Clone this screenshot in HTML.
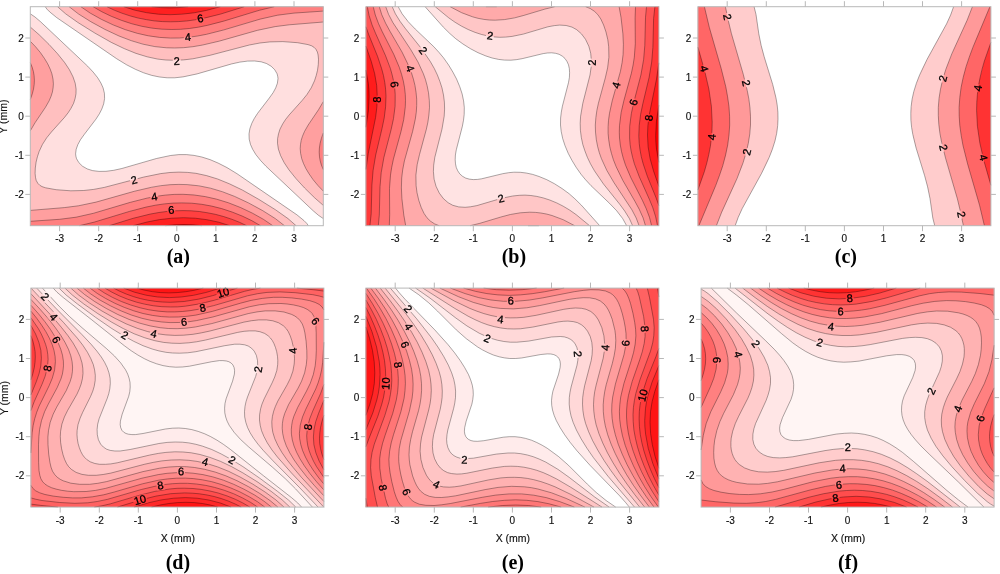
<!DOCTYPE html>
<html><head><meta charset="utf-8"><style>
html,body{margin:0;padding:0;background:#fff;}
svg{display:block;}
text{font-family:"Liberation Sans",Arial,sans-serif;fill:#111;}
.tk text{font-size:10px;stroke:#111;stroke-width:0.15px;}
.ax{font-size:10.5px;stroke:#111;stroke-width:0.15px;}
.pl{font-family:"Liberation Serif","Times New Roman",serif;font-weight:bold;font-size:20px;fill:#000;}
.cl{font-size:11px;fill:#000;stroke:#000;stroke-width:0.3px;}
</style></head><body>
<svg width="1000" height="574" viewBox="0 0 1000 574">
<mask id="ma" maskUnits="userSpaceOnUse" x="0" y="0" width="1000" height="574"><rect x="0" y="0" width="1000" height="574" fill="#fff"/><rect x="-4.0" y="-4.5" width="8.0" height="9" transform="translate(200.3,18.7) rotate(-10.7)" fill="#000"/><rect x="-4.0" y="-4.5" width="8.0" height="9" transform="translate(187.8,37.3) rotate(-6.0)" fill="#000"/><rect x="-4.0" y="-4.5" width="8.0" height="9" transform="translate(176.8,61.3) rotate(-1.5)" fill="#000"/><rect x="-4.0" y="-4.5" width="8.0" height="9" transform="translate(134.0,180.1) rotate(-15.1)" fill="#000"/><rect x="-4.0" y="-4.5" width="8.0" height="9" transform="translate(154.3,196.9) rotate(-10.0)" fill="#000"/><rect x="-4.0" y="-4.5" width="8.0" height="9" transform="translate(171.2,210.1) rotate(-4.5)" fill="#000"/></mask>
<rect x="30.3" y="6.7" width="293.0" height="219.0" fill="#ffffff"/>
<path d="M30.9 225.7l277.5 0-1.7-2.4-2.8-2.8-7-5.7-59.9-41.1-10-6.1-8.8-4.5-8.2-3.5-8.2-2.6-7.7-1.6-7.6-.8-7.6 0-8.3 .9-14.1 3-34.6 10-8.2 1.8-7.7 1-7 .1-6.5-.8-5.3-1.7-4.7-2.7-3.6-3.5-2.4-4.1-.6-2.4-.3-2.3 .6-4.7 1.7-4.7 2.6-4.8 3.8-5.3 11.7-15.3 3.4-5.3 2.4-4.7 1.9-5.3 .9-5.3-.2-5.3-1.3-5.3-2.1-4.7-3.2-5.3-4.6-5.8-5.5-5.9-47.4-44.7-5.3-4.5-4.7-3.2 0 211.9zM323.3 218.6l0-211.9-278.1 0 1.7 2.4 2.8 2.8 7 5.7 59.9 41.1 10 6.1 8.8 4.5 8.2 3.5 8.2 2.6 7.7 1.6 7.6 .8 7.6 0 8.3-.9 14.1-3 34.6-10 8.2-1.8 7.7-1 7-.1 6.5 .8 5.3 1.7 4.7 2.7 3.6 3.5 2.4 4.1 .6 2.4 .3 2.3-.6 4.7-1.7 4.7-2.6 4.8-3.8 5.3-11.7 15.3-3.4 5.3-2.4 4.7-1.9 5.3-.9 5.3 .2 5.3 1.3 5.3 2.1 4.7 3.2 5.3 4.6 5.8 5.5 5.9 47.4 44.7 5.3 4.5 4.7 3.2z" fill="#ffdfdf" fill-rule="evenodd"/>
<path d="M30.9 225.7l265.2 0-8.1-7.1-12.3-8.7-17-10.6-16.4-9.3-12.9-6.2-11.8-4.8-11.1-3.4-10.6-2.3-8.2-.9-8.8-.3-8.9 .4-9.3 1.1-17.1 3.5-39.3 10.3-10.6 2-10 1.1-12.9 .3-14.7-1.1-10.5-1.9-3.6-1.2-2.3-1.4-1.9-1.9-1.6-2.9-.7-3-.4-4.1 .2-5.3 .8-5.9 1.3-5.3 1.7-5.2 3.3-7.1 4.3-6.7 4.7-5.8 13.1-14.6 3.7-4.7 2.7-4.2 2.7-5.2 1.5-4.8 .9-4.7 .1-4.7-.9-5.9-2.2-6.4-3.6-7.1-4.7-7.1-7.1-8.8-8.6-9.4-9.9-9.7-8.8-7.7 0 198.7zM323.3 205.4l0-198.7-265.8 0 8.1 7.1 12.3 8.7 17 10.6 16.4 9.3 12.9 6.2 11.8 4.8 11.1 3.4 10.6 2.3 8.2 .9 8.8 .3 8.9-.4 9.3-1.1 17.1-3.5 39.3-10.3 10.6-2 10-1.1 12.9-.3 14.7 1.1 10.5 1.9 3.6 1.2 2.3 1.4 1.9 1.9 1.6 2.9 .7 3 .4 4.1-.2 5.3-.8 5.9-1.3 5.3-1.7 5.2-3.3 7.1-4.3 6.7-4.7 5.8-13.1 14.6-3.7 4.7-2.7 4.2-2.7 5.2-1.5 4.8-.9 4.7-.1 4.7 .9 5.9 2.2 6.4 3.6 7.1 4.7 7.1 7.1 8.8 8.6 9.4 9.6 9.4 8.7 7.7z" fill="#ffbfbf" fill-rule="evenodd"/>
<path d="M30.9 225.7l253.6 0-10.5-8-13.5-8.4-15.3-8.1-14.7-6.5-12.9-4.5-12.9-3.3-12.3-1.9-12.4-.6-7.6 .2-7.6 .6-16.5 2.7-15.8 3.9-34.7 9.8-17.6 3.9-15.3 2-34.6 2.9 0 15.3zM323.3 191.1l0-89.5-4.7 8-10.4 15.4-3.7 6.5-2 4.7-1.3 4.1-.7 4.2-.3 4.1 .4 4.7 1.1 5.3 1.7 4.7 2.5 5.3 3.2 5.3 4.1 5.9 4.9 5.9 5 5.3zM30.6 130.3l4.4-7.5 10.7-16 3.7-6.5 1.7-4.1 1.3-4.1 .7-4.2 .3-4.1-.4-4.7-1.1-5.3-1.7-4.7-2.5-5.3-3.2-5.3-4.1-5.9-4.9-5.9-5.2-5.4 0 89.5zM168.9 47.9l8.2 .1 8.2-.5 8.8-1 9.4-1.7 16.5-3.9 37-10.4 17.6-3.8 14.7-1.9 34-2.8 0-15.3-254.2 0 9.9 7.6 12.9 8.1 14.1 7.6 14.1 6.5 12.4 4.6 12.3 3.5 11.7 2.2 11.8 1.1z" fill="#ff9f9f" fill-rule="evenodd"/>
<path d="M30.9 225.7l241.9 0-9.6-6.5-11.5-6.4-12.4-5.8-12.3-4.7-11.7-3.5-11.8-2.6-11.1-1.4-11.8-.5-8.2 .2-8.8 .8-8.8 1.3-8.8 1.8-16.5 4.2-35.8 10.6-17 3.9-16.5 2.2-29.9 2 0 4.4zM323.3 169.7l0-36.8-3.1 9.8-.8 4.7-.2 4.1 .2 4.7 .7 4.1 1.1 4.2 1.9 4.7zM30.4 99.1l1.9-5.3 1.2-4.7 .7-4.7 .2-4.1-.3-4.7-.7-4.1-1.2-4.2-1.9-4.6 0 36.8zM165.9 37.9l8.8 .2 9.4-.4 9.4-1.1 10-1.7 15.9-3.8 37.6-11.1 16.4-4 9.2-1.6 9.6-1.2 31.1-2.1 0-4.4-242.5 0 8.8 6 10.6 6 11.1 5.4 11.8 4.8 11.1 3.6 10.6 2.7 10.6 1.8 10.2 .9z" fill="#ff8080" fill-rule="evenodd"/>
<path d="M79.6 225.7l180.9 0-8.8-5.1-9.4-4.5-10-4-10.6-3.5-10-2.5-9.9-1.8-10-1.1-10-.3-8.8 .2-8.8 .8-8.8 1.3-9.4 1.9-16.5 4.3-35.2 10.7-15 3.6zM160.7 29.1l9.9 .4 10.6-.3 10.6-1 10.5-1.8 17.1-4 38.1-11.6 16.8-4.1-181.2 0 7.7 4.5 8.2 4 8.2 3.6 8.8 3.2 8.8 2.6 8.2 2 8.8 1.5 8.7 1z" fill="#ff6060" fill-rule="evenodd"/>
<path d="M109.6 225.7l137.1 0-7.4-3.5-7.6-3-8.2-2.7-8.2-2.2-8.3-1.6-7.6-1.2-8.2-.7-8.2-.2-7.7 .2-8.2 .6-8.2 1.1-8.8 1.6-17 4.2-23.8 7.4zM160.7 21.5l8.8 .3 9.4-.2 9.4-.8 9.9-1.5 9.4-1.9 10.6-2.6 26.1-8.1-137.4 0 12.6 5.6 13.6 4.4 13.5 3 13.5 1.7z" fill="#ff4040" fill-rule="evenodd"/>
<path d="M133.6 225.7l96.3 0-11.1-3.5-11.8-2.5-11.7-1.5-11.7-.5-11.8 .5-12.3 1.4-12.4 2.4-13.9 3.7zM160.7 14.4l14 .2 14.7-1.2 14.7-2.5 16.3-4.2-96.7 0 8.8 2.8 9.4 2.3 9.4 1.6 9.2 1z" fill="#ff2020" fill-rule="evenodd"/>
<path d="M165.9 225.7l36.1 0-9.1-.9-8.8-.3-9.4 .3-9.3 .9zM167.7 7.9l10-.2 10.5-1-36.6 0 7.9 .8 8 .4z" fill="#ff0000" fill-rule="evenodd"/>
<path d="M308.4 225.7l-1.7-2.4-2.8-2.8-7-5.7-59.9-41.1-10-6.1-8.8-4.5-8.2-3.5-8.2-2.6-7.7-1.6-7.6-.8-7.6 0-8.3 .9-14.1 3-34.6 10-8.2 1.8-7.7 1-7 .1-6.5-.8-5.3-1.7-4.7-2.7-3.6-3.5-2.4-4.1-.6-2.4-.3-2.3 .6-4.7 1.7-4.7 2.6-4.8 3.8-5.3 11.7-15.3 3.4-5.3 2.4-4.7 1.9-5.3 .9-5.3-.2-5.3-1.3-5.3-2.1-4.7-3.2-5.3-4.6-5.8-5.5-5.9-47.4-44.7-5.3-4.5-4.7-3.2M45.2 6.7l1.7 2.4 2.8 2.8 7 5.7 59.9 41.1 10 6.1 8.8 4.5 8.2 3.5 8.2 2.6 7.7 1.6 7.6 .8 7.6 0 8.3-.9 14.1-3 34.6-10 8.2-1.8 7.7-1 7-.1 6.5 .8 5.3 1.7 4.7 2.7 3.6 3.5 2.4 4.1 .6 2.4 .3 2.3-.6 4.7-1.7 4.7-2.6 4.8-3.8 5.3-11.7 15.3-3.4 5.3-2.4 4.7-1.9 5.3-.9 5.3 .2 5.3 1.3 5.3 2.1 4.7 3.2 5.3 4.6 5.8 5.5 5.9 47.4 44.7 5.3 4.5 4.7 3.2M296.1 225.7l-8.1-7.1-12.3-8.7-17-10.6-16.4-9.3-12.9-6.2-11.8-4.8-11.1-3.4-10.6-2.3-8.2-.9-8.8-.3-8.9 .4-9.3 1.1-17.1 3.5-39.3 10.3-10.6 2-10 1.1-12.9 .3-14.7-1.1-10.5-1.9-3.6-1.2-2.3-1.4-1.9-1.9-1.6-2.9-.7-3-.4-4.1 .2-5.3 .8-5.9 1.3-5.3 1.7-5.2 3.3-7.1 4.3-6.7 4.7-5.8 13.1-14.6 3.7-4.7 2.7-4.2 2.7-5.2 1.5-4.8 .9-4.7 .1-4.7-.9-5.9-2.2-6.4-3.6-7.1-4.7-7.1-7.1-8.8-8.6-9.4-9.9-9.7-8.8-7.7M57.5 6.7l8.1 7.1 12.3 8.7 17 10.6 16.4 9.3 12.9 6.2 11.8 4.8 11.1 3.4 10.6 2.3 8.2 .9 8.8 .3 8.9-.4 9.3-1.1 17.1-3.5 39.3-10.3 10.6-2 10-1.1 12.9-.3 14.7 1.1 10.5 1.9 3.6 1.2 2.3 1.4 1.9 1.9 1.6 2.9 .7 3 .4 4.1-.2 5.3-.8 5.9-1.3 5.3-1.7 5.2-3.3 7.1-4.3 6.7-4.7 5.8-13.1 14.6-3.7 4.7-2.7 4.2-2.7 5.2-1.5 4.8-.9 4.7-.1 4.7 .9 5.9 2.2 6.4 3.6 7.1 4.7 7.1 7.1 8.8 8.6 9.4 9.9 9.7 8.8 7.7M284.5 225.7l-9.3-7.2-12.4-7.8-14.1-7.7-14.1-6.6-12.3-4.7-11.7-3.5-11.8-2.4-11.7-1.2-8.2-.2-8.9 .3-9.3 1-9.4 1.6-17.1 4-38.1 10.8-17.7 3.7-14.1 1.8-34 2.8M30.3 130.8l4.7-8 10.4-15.4 3.7-6.5 2-4.7 1.3-4.1 .7-4.2 .3-4.1-.4-4.7-1.1-5.3-1.7-4.7-2.5-5.3-3.2-5.3-4.1-5.9-4.9-5.9-5.2-5.4M323.3 101.6l-4.7 8-10.4 15.4-3.7 6.5-2 4.7-1.3 4.1-.7 4.2-.3 4.1 .4 4.7 1.1 5.3 1.7 4.7 2.5 5.3 3.2 5.3 4.1 5.9 4.9 5.9 5.2 5.4M69.1 6.7l9.3 7.2 12.4 7.8 14.1 7.7 14.1 6.6 12.3 4.7 11.7 3.5 11.8 2.4 11.7 1.2 8.2 .2 8.9-.3 9.3-1 9.4-1.6 17.1-4 38.1-10.8 17.7-3.7 14.1-1.8 34-2.8M272.8 225.7l-9.4-6.4-11.1-6.2-11.8-5.6-12.3-4.8-11.8-3.6-11.1-2.5-11.2-1.6-11.1-.7-8.8 .1-8.9 .7-8.8 1.2-9.4 1.8-17 4.3-36.7 10.9-17.3 3.9-16.5 2.1-29.3 2M323.3 132.9l-2 5.7-1.2 4.7-.7 4.7-.2 4.1 .3 4.7 .7 4.1 1.2 4.2 1.9 4.6M30.3 99.5l2-5.7 1.2-4.7 .7-4.7 .2-4.1-.3-4.7-.7-4.1-1.2-4.2-1.9-4.6M80.8 6.7l9.4 6.4 11.1 6.2 11.8 5.6 12.3 4.8 11.8 3.6 11.1 2.5 11.2 1.6 11.1 .7 8.8-.1 8.9-.7 8.8-1.2 9.4-1.8 17-4.3 36.7-10.9 17.3-3.9 16.5-2.1 29.3-2M260.5 225.7l-8.8-5.1-9.4-4.5-10-4-10.6-3.5-10-2.5-9.9-1.8-10-1.1-10-.3-8.8 .2-8.8 .8-8.8 1.3-9.4 1.9-16.5 4.3-35.2 10.7-15 3.6M93.1 6.7l8.8 5.1 9.4 4.5 10 4 10.6 3.5 10 2.5 9.9 1.8 10 1.1 10 .3 8.8-.2 8.8-.8 8.8-1.3 9.4-1.9 16.5-4.3 35.2-10.7 15-3.6M246.7 225.7l-7.4-3.5-7.6-3-8.2-2.7-8.2-2.2-8.3-1.6-7.6-1.2-8.2-.7-8.2-.2-7.7 .2-8.2 .6-8.2 1.1-8.8 1.6-17 4.2-23.8 7.4M106.9 6.7l7.4 3.5 7.6 3 8.2 2.7 8.2 2.2 8.3 1.6 7.6 1.2 8.2 .7 8.2 .2 7.7-.2 8.2-.6 8.2-1.1 8.8-1.6 17-4.2 23.8-7.4M229.9 225.7l-11.1-3.5-11.8-2.5-11.7-1.5-11.7-.5-11.8 .5-12.3 1.4-12.4 2.4-13.9 3.7M123.7 6.7l11.1 3.5 11.8 2.5 11.7 1.5 11.7 .5 11.8-.5 12.3-1.4 12.4-2.4 13.9-3.7M202 225.7l-9.1-.9-8.8-.3-9.4 .3-9.3 .9M151.6 6.7l9.1 .9 8.8 .3 9.4-.3 9.3-.9" fill="none" stroke="#000" stroke-opacity="0.42" stroke-width="0.8" mask="url(#ma)"/>
<text class="cl" transform="translate(200.3,18.7) rotate(-10.7)" x="0" y="3.6" text-anchor="middle">6</text><text class="cl" transform="translate(187.8,37.3) rotate(-6.0)" x="0" y="3.6" text-anchor="middle">4</text><text class="cl" transform="translate(176.8,61.3) rotate(-1.5)" x="0" y="3.6" text-anchor="middle">2</text><text class="cl" transform="translate(134.0,180.1) rotate(-15.1)" x="0" y="3.6" text-anchor="middle">2</text><text class="cl" transform="translate(154.3,196.9) rotate(-10.0)" x="0" y="3.6" text-anchor="middle">4</text><text class="cl" transform="translate(171.2,210.1) rotate(-4.5)" x="0" y="3.6" text-anchor="middle">6</text>
<mask id="mb" maskUnits="userSpaceOnUse" x="0" y="0" width="1000" height="574"><rect x="0" y="0" width="1000" height="574" fill="#fff"/><rect x="-4.0" y="-4.5" width="8.0" height="9" transform="translate(423.0,50.5) rotate(53.6)" fill="#000"/><rect x="-4.0" y="-4.5" width="8.0" height="9" transform="translate(410.0,68.5) rotate(68.3)" fill="#000"/><rect x="-4.0" y="-4.5" width="8.0" height="9" transform="translate(394.3,84.5) rotate(81.1)" fill="#000"/><rect x="-4.0" y="-4.5" width="8.0" height="9" transform="translate(377.3,99.7) rotate(-88.7)" fill="#000"/><rect x="-4.0" y="-4.5" width="8.0" height="9" transform="translate(490.0,35.8) rotate(8.9)" fill="#000"/><rect x="-4.0" y="-4.5" width="8.0" height="9" transform="translate(592.1,62.6) rotate(-88.8)" fill="#000"/><rect x="-4.0" y="-4.5" width="8.0" height="9" transform="translate(616.3,85.2) rotate(-73.7)" fill="#000"/><rect x="-4.0" y="-4.5" width="8.0" height="9" transform="translate(633.7,102.4) rotate(-76.1)" fill="#000"/><rect x="-4.0" y="-4.5" width="8.0" height="9" transform="translate(649.2,118.0) rotate(-82.0)" fill="#000"/><rect x="-4.0" y="-4.5" width="8.0" height="9" transform="translate(501.1,198.6) rotate(-15.2)" fill="#000"/></mask>
<rect x="365.9" y="6.7" width="293.0" height="219.0" fill="#ffffff"/>
<path d="M366.5 225.7l233.2 0-18.3-20.5-6.5-6.4-5.8-5.1-7.1-5.2-7.6-4.8-7.6-4-7.7-3.2-6.4-2.1-6.5-1.4-5.9-.7-6.4-.1-5.3 .5-5.9 1-21.1 5.1-4.1 .6-4.2 .2-4.1-.5-3.5-1-3.3-1.9-2.6-2.3-2-3-1.5-3.3-.8-3.7-.3-4.1 .2-4.8 .9-5.2 6.1-23.6 1.1-5.9 .7-5.9 .1-7-.7-6.5-1.5-7.1-2.3-7-3.2-7.7-3.7-7-4.3-7.1-5-7.1-4.4-5.3-5.4-5.9-18.6-17.7-7-7.3-6.1-7.9-3.9-7.1-32.3 0 0 219zM626.6 225.7l32.3 0 0-219-233.8 0 18.3 20.5 6.5 6.4 5.8 5.1 7.1 5.2 7.6 4.8 7.6 4 7.7 3.2 6.4 2.1 6.5 1.4 5.9 .7 6.4 .1 5.3-.5 5.9-1 21.1-5.1 4.1-.6 4.2-.2 4.1 .5 3.5 1 3.3 1.9 2.6 2.3 2 3 1.5 3.3 .8 3.7 .3 4.1-.2 4.8-.9 5.2-6.1 23.6-1.1 5.9-.7 5.9-.1 7 .7 6.5 1.5 7.1 2.3 7 3.2 7.7 3.7 7 4.3 7.1 5 7.1 4.4 5.3 5.4 5.9 18.6 17.7 7 7.3 6.1 7.9 3.9 7.1z" fill="#ffe3e3" fill-rule="evenodd"/>
<path d="M366.5 225.7l223.1 0-13.5-11.1-6.4-4.5-6.5-3.9-6.5-3.3-7-2.9-6.5-2.1-6.4-1.5-5.9-.9-5.9-.4-5.8 .2-6.5 .7-11.2 2.3-24.6 7.3-6.5 1.2-5.3 .5-6.4-.4-5.9-1.6-4.7-2.6-4.7-4.1-4.1-5.5-3.3-6.9-1.9-7-.7-7.7 .3-6.4 1.1-7.7 7.2-28.3 2.2-12.9 .4-7.1-.2-7-.9-7.1-1.5-7.1-2.1-6.4-2.5-6.5-3.1-6.5-4-7-8.9-13-16.2-20.2-5.1-6.9-4.7-7.6-3.2-7.1-26.3 0 0 219zM632.5 225.2l.1 .5 26.3 0 0-219-223.7 0 13.5 11.1 6.4 4.5 6.5 3.9 6.5 3.3 7 2.9 6.5 2.1 6.4 1.5 5.9 .9 5.9 .4 5.8-.2 6.5-.7 11.2-2.3 24.6-7.3 6.5-1.2 5.3-.5 6.4 .4 5.9 1.6 4.7 2.6 4.7 4.1 4.1 5.5 3.3 6.9 1.9 7 .7 7.7-.3 6.4-1.1 7.7-7.2 28.3-2.2 12.9-.4 7.1 .2 7 .9 7.1 1.5 7.1 2.3 7 2.6 6.5 3.5 7.1 3.7 6.4 8.5 12.4 15.6 19.4 5.3 7.1 4.8 7.6 3.3 7.1z" fill="#ffc6c6" fill-rule="evenodd"/>
<path d="M366.5 225.7l72.7 0-4.6-1.8-4.1-2.7-3.5-3.4-3-4.4-2.8-6-2.4-7-1.8-7.7-.9-7-.2-10.6 1.3-10.6 2.3-10 6.9-25.4 1.5-7 1-7.1 .6-7.6-.2-7.1-.8-7.6-1.4-7.1-1.6-5.9-2.1-5.9-5.4-11.8-7.2-12.3-17.9-27.1-4.3-8.2-2.9-7.7-19.8 0 0 219zM470.4 225.7l104.3 0-11.5-6-11.2-4.2-5.2-1.4-5.9-1.1-5.3-.6-5.9-.2-9.4 .6-10 1.7-9.4 2.5-21 6.3-9.8 2.4zM638.9 225.1l.2 .6 19.8 0 0-219-73.3 0 4.6 1.8 4.1 2.7 3.5 3.4 3 4.4 2.8 6 2.4 7 1.8 7.7 .9 7 .2 10.6-1.3 10.6-2.3 10-6.9 25.4-1.5 7-1 7.1-.6 7.6 .2 7.1 .8 7.6 1.4 7.1 1.6 5.9 2.1 5.9 5.7 12.3 6.9 11.8 17.9 27.1 4.1 7.8 2.9 7.5zM486.3 19.7l5.8 .5 6.5-.1 5.9-.5 6.4-1 9.4-2.2 22.9-6.9 11.5-2.8-104.6 0 9.2 5 8.8 3.7 8.8 2.6 9 1.7z" fill="#ffaaaa" fill-rule="evenodd"/>
<path d="M366.5 225.7l39.2 0-1.9-10.6-2-17.1-.5-11.2 .5-10 1.1-8.2 1.7-8.6 7.4-26.1 2.3-9.5 1.5-8.2 .8-8.2 0-9.5-.9-8.8-1.8-8.8-2.9-9.4-3.4-8.3-4-8.2-14.2-24.8-4.4-8.2-3.3-7.6-2.4-7.7-13.4 0 0 219zM645.4 225.4l.1 .3 13.4 0 0-219-39.8 0 1.9 10.6 2 17.1 .5 11.2-.5 10-1.1 8.2-1.7 8.6-7.4 26.1-2.3 9.5-1.5 8.2-.7 7.7-.2 9.4 1 9.4 1.8 8.8 2.9 9.4 3.4 8.3 4 8.2 14.2 24.8 4.1 7.7 3.6 8 2.2 7.2zM486.3 6.7l10.5 0-10.9 0z" fill="#ff8e8e" fill-rule="evenodd"/>
<path d="M366.5 225.7l22.8 0 .4-11.2-.2-25.9 1.2-14.7 1.2-7.7 1.7-7.6 7.1-25.9 2.3-9.4 1.7-10 .7-9.5-.1-8.2-.8-8.2-1.6-8.3-2.4-8.2-2.8-7.7-3.3-7.6-12.1-23.8-4-8.6-3-8.2-2.1-8.3-7.3 0 0 219zM651.9 225.7l7 0 0-219-23.4 0-.4 11.2 .2 25.9-1.2 14.7-1.2 7.7-1.7 7.6-7.1 25.9-2.3 9.4-1.7 10-.7 9.5 .1 8.2 .8 8.2 1.6 8.3 2.4 8.2 2.8 7.7 3.3 7.6 12.1 23.8 4 8.6 3 8.2 2.1 8.3z" fill="#ff7171" fill-rule="evenodd"/>
<path d="M366.5 225.7l11.8 0 1-10.6 .7-28.3 1.2-14.7 2.9-15.4 6.7-25.8 2.3-10 1.7-11.2 .5-10-.2-7.6-.8-7.1-1.4-7.1-2-7.6-5.1-14.1-10.5-23.4-3.4-8.4-2.8-8.9-1.8-8.8-1.4 0 0 219zM657.7 225.7l1.2 0 0-219-12.4 0-1 10.6-.7 28.3-1.2 14.7-2.9 15.4-6.7 25.8-2.3 10-1.7 11.2-.5 10 .2 7.6 .8 7.1 1.4 7.1 2 7.6 5.1 14.1 10.5 23.4 3.4 8.4 2.8 8.9 1.8 8.8z" fill="#ff5555" fill-rule="evenodd"/>
<path d="M366.5 225.7l3.4 0 .2-1.2 1.1-11.2 .7-28.2 1.2-14.7 2.7-15.9 6.2-25.9 2.1-10 1.4-10.6 .5-10-.3-7.1-.7-7.1-1.3-7-1.7-7.1-4.3-12.9-8.8-21.8-3-8.3 0 199zM658.9 205.7l0-199-4 0-.1 .6-1.2 11.8-.7 28.2-1.2 14.7-2.7 15.9-6.2 25.9-2.1 10-1.4 10.6-.5 10 .3 7.1 .7 7.1 1.3 7 1.7 7.1 4.3 12.9 8.8 21.8 3 8.3z" fill="#ff3939" fill-rule="evenodd"/>
<path d="M658.9 186.4l0-123.5-2.4 16.2-7.3 35.9-1.3 10.6-.4 9.4 .6 11.8 2 11.8 3.4 12.3 5.4 15.3zM365.9 169.2l2.4-15.9 7.3-35.9 1.3-10.6 .4-9.4-.6-11.8-2-11.8-3.4-12.3-5.4-15.5 0 123.5z" fill="#ff1c1c" fill-rule="evenodd"/>
<path d="M658.9 162.4l0-57.3-2.5 16.4-.7 13.5 .2 7.1 .5 6.5 2.4 13.5zM366 126.8l2.4-16.5 .7-13.5-.2-7.1-.6-6.5-2.4-13.2 0 57.3z" fill="#ff0000" fill-rule="evenodd"/>
<path d="M599.7 225.7l-18.3-20.5-6.5-6.4-5.8-5.1-7.1-5.2-7.6-4.8-7.6-4-7.7-3.2-6.4-2.1-6.5-1.4-5.9-.7-6.4-.1-5.3 .5-5.9 1-21.1 5.1-4.1 .6-4.2 .2-4.1-.5-3.5-1-3.3-1.9-2.6-2.3-2-3-1.5-3.3-.8-3.7-.3-4.1 .2-4.8 .9-5.2 6.1-23.6 1.1-5.9 .7-5.9 .1-7-.7-6.5-1.5-7.1-2.3-7-3.2-7.7-3.7-7-4.3-7.1-5-7.1-4.4-5.3-5.4-5.9-18.6-17.7-7-7.3-6.1-7.9-3.9-7.1M425.1 6.7l18.3 20.5 6.5 6.4 5.8 5.1 7.1 5.2 7.6 4.8 7.6 4 7.7 3.2 6.4 2.1 6.5 1.4 5.9 .7 6.4 .1 5.3-.5 5.9-1 21.1-5.1 4.1-.6 4.2-.2 4.1 .5 3.5 1 3.3 1.9 2.6 2.3 2 3 1.5 3.3 .8 3.7 .3 4.1-.2 4.8-.9 5.2-6.1 23.6-1.1 5.9-.7 5.9-.1 7 .7 6.5 1.5 7.1 2.3 7 3.2 7.7 3.7 7 4.3 7.1 5 7.1 4.4 5.3 5.4 5.9 18.6 17.7 7 7.3 6.1 7.9 3.9 7.1M589.6 225.7l-13.5-11.1-6.4-4.5-6.5-3.9-6.5-3.3-7-2.9-6.5-2.1-6.4-1.5-5.9-.9-5.9-.4-5.8 .2-6.5 .7-11.2 2.3-24.6 7.3-6.5 1.2-5.3 .5-6.4-.4-5.9-1.6-4.7-2.6-4.7-4.1-4.1-5.5-3.3-6.9-1.9-7-.7-7.7 .3-6.4 1.1-7.7 7.2-28.3 2.2-12.9 .4-7.1-.2-7-.9-7.1-1.5-7.1-2.1-6.4-2.5-6.5-3.1-6.5-4-7-8.9-13-16.2-20.2-5.1-6.9-4.7-7.6-3.2-7.1M435.2 6.7l13.5 11.1 6.4 4.5 6.5 3.9 6.5 3.3 7 2.9 6.5 2.1 6.4 1.5 5.9 .9 5.9 .4 5.8-.2 6.5-.7 11.2-2.3 24.6-7.3 6.5-1.2 5.3-.5 6.4 .4 5.9 1.6 4.7 2.6 4.7 4.1 4.1 5.5 3.3 6.9 1.9 7 .7 7.7-.3 6.4-1.1 7.7-7.2 28.3-2.2 12.9-.4 7.1 .2 7 .9 7.1 1.5 7.1 2.1 6.4 2.5 6.5 3.1 6.5 4 7 8.9 13 16.2 20.2 5.1 6.9 4.7 7.6 3.2 7.1M439.2 225.7l-4.6-1.8-4.1-2.7-3.5-3.4-3-4.4-2.8-6-2.4-7-1.8-7.7-.9-7-.2-10.6 1.3-10.6 2.3-10 6.9-25.4 1.5-7 1-7.1 .6-7.6-.2-7.1-.8-7.6-1.4-7.1-1.6-5.9-2.1-5.9-5.4-11.8-7.2-12.3-17.9-27.1-4.3-8.2-2.9-7.7M574.7 225.7l-11.5-6-11.2-4.2-5.2-1.4-5.9-1.1-5.3-.6-5.9-.2-9.4 .6-10 1.7-9.4 2.5-21 6.3-9.8 2.4M450.1 6.7l11.5 6 11.2 4.2 5.2 1.4 5.9 1.1 5.3 .6 5.9 .2 9.4-.6 10-1.7 9.4-2.5 21-6.3 9.8-2.4M585.6 6.7l4.6 1.8 4.1 2.7 3.5 3.4 3 4.4 2.8 6 2.4 7 1.8 7.7 .9 7 .2 10.6-1.3 10.6-2.3 10-6.9 25.4-1.5 7-1 7.1-.6 7.6 .2 7.1 .8 7.6 1.4 7.1 1.6 5.9 2.1 5.9 5.4 11.8 7.2 12.3 17.9 27.1 4.3 8.2 2.9 7.7M405.7 225.7l-1.9-10.6-1.9-16.5-.5-10.6 .3-10 1-8.2 1.7-8.9 8.2-29.4 2.7-12.4 1-7 .4-6.5 0-6.5-.6-6.4-1.1-7.1-1.6-6.5-2-6.5-2.8-7-6.6-13.6-12-20.7-4.4-8.1-3.9-8.7-2.4-7.8M538.9 225.7l-10.9 0M485.9 6.7l10.9 0M619.1 6.7l1.9 10.6 1.9 16.5 .5 10.6-.3 10-1 8.2-1.7 8.9-8.2 29.4-2.7 12.4-1 7-.4 6.5 0 6.5 .6 6.4 1.1 7.1 1.6 6.5 2 6.5 2.8 7 6.6 13.6 12 20.7 4.4 8.1 3.9 8.7 2.4 7.8M389.3 225.7l.4-11.2-.2-25.9 1-13.5 1.2-7.7 1.7-8.2 7.6-27.7 2.7-11.8 1.6-12.9 .2-6.5-.2-5.9-.8-7-1.2-6.5-1.7-6.5-2.3-7.1-5.5-12.9-11.5-22.6-3.7-8-3.3-8.8-2.1-8.3M635.5 6.7l-.4 11.2 .2 25.9-1 13.5-1.2 7.7-1.7 8.2-7.6 27.7-2.7 11.8-1.6 12.9-.2 6.5 .2 5.9 .8 7 1.2 6.5 1.7 6.5 2.3 7.1 5.5 12.9 11.5 22.6 3.7 8 3.3 8.8 2.1 8.3M378.3 225.7l1-10.6 .7-28.3 1.2-14.1 2.7-15.3 7.2-27.7 2.4-11.1 1.6-12.4 .1-11.8-.5-6.5-1-6.4-1.5-6.5-1.8-6.5-4.9-12.9-10-22.4-3.4-8.2-3-9.5-1.8-8.8M646.5 6.7l-1 10.6-.7 28.3-1.2 14.1-2.7 15.3-7.2 27.7-2.4 11.1-1.6 12.4-.1 11.8 .5 6.5 1 6.4 1.5 6.5 1.8 6.5 4.9 12.9 10 22.4 3.4 8.2 3 9.5 1.8 8.8M369.9 225.7l1.3-11.8 .7-28.8 1.2-14.7 2.6-15.4 6.3-26.4 2.2-10.6 1.4-11.2 .4-10.6-.4-7.1-.8-6.5-1.3-7-1.9-7.1-4.1-12.3-8.6-21.2-3-8.3M654.9 6.7l-1.3 11.8-.7 28.8-1.2 14.7-2.6 15.4-6.3 26.4-2.2 10.6-1.4 11.2-.4 10.6 .4 7.1 .8 6.5 1.3 7 1.9 7.1 4.1 12.3 8.6 21.2 3 8.3M365.9 169.5l2.4-16.2 7.3-35.9 1.3-10.6 .4-9.4-.6-11.8-2-11.8-3.4-12.3-5.4-15.5M658.9 62.9l-2.4 16.2-7.3 35.9-1.3 10.6-.4 9.4 .6 11.8 2 11.8 3.4 12.3 5.4 15.5M365.9 127.3l2.5-16.4 .7-14.1-.2-7.1-.6-6.5-2.4-13.2M658.9 105.1l-2.5 16.4-.7 14.1 .2 7.1 .6 6.5 2.4 13.2" fill="none" stroke="#000" stroke-opacity="0.42" stroke-width="0.8" mask="url(#mb)"/>
<text class="cl" transform="translate(423.0,50.5) rotate(53.6)" x="0" y="3.6" text-anchor="middle">2</text><text class="cl" transform="translate(410.0,68.5) rotate(68.3)" x="0" y="3.6" text-anchor="middle">4</text><text class="cl" transform="translate(394.3,84.5) rotate(81.1)" x="0" y="3.6" text-anchor="middle">6</text><text class="cl" transform="translate(377.3,99.7) rotate(-88.7)" x="0" y="3.6" text-anchor="middle">8</text><text class="cl" transform="translate(490.0,35.8) rotate(8.9)" x="0" y="3.6" text-anchor="middle">2</text><text class="cl" transform="translate(592.1,62.6) rotate(-88.8)" x="0" y="3.6" text-anchor="middle">2</text><text class="cl" transform="translate(616.3,85.2) rotate(-73.7)" x="0" y="3.6" text-anchor="middle">4</text><text class="cl" transform="translate(633.7,102.4) rotate(-76.1)" x="0" y="3.6" text-anchor="middle">6</text><text class="cl" transform="translate(649.2,118.0) rotate(-82.0)" x="0" y="3.6" text-anchor="middle">8</text><text class="cl" transform="translate(501.1,198.6) rotate(-15.2)" x="0" y="3.6" text-anchor="middle">2</text>
<mask id="mc" maskUnits="userSpaceOnUse" x="0" y="0" width="1000" height="574"><rect x="0" y="0" width="1000" height="574" fill="#fff"/><rect x="-4.0" y="-4.5" width="8.0" height="9" transform="translate(727.1,17.0) rotate(78.1)" fill="#000"/><rect x="-4.0" y="-4.5" width="8.0" height="9" transform="translate(746.1,83.2) rotate(76.1)" fill="#000"/><rect x="-4.0" y="-4.5" width="8.0" height="9" transform="translate(747.1,152.1) rotate(-75.1)" fill="#000"/><rect x="-4.0" y="-4.5" width="8.0" height="9" transform="translate(704.0,68.7) rotate(75.0)" fill="#000"/><rect x="-4.0" y="-4.5" width="8.0" height="9" transform="translate(712.0,137.0) rotate(-84.4)" fill="#000"/><rect x="-4.0" y="-4.5" width="8.0" height="9" transform="translate(943.1,78.7) rotate(-74.6)" fill="#000"/><rect x="-4.0" y="-4.5" width="8.0" height="9" transform="translate(943.1,147.7) rotate(76.5)" fill="#000"/><rect x="-4.0" y="-4.5" width="8.0" height="9" transform="translate(961.1,214.6) rotate(78.0)" fill="#000"/><rect x="-4.0" y="-4.5" width="8.0" height="9" transform="translate(978.2,88.2) rotate(-81.8)" fill="#000"/><rect x="-4.0" y="-4.5" width="8.0" height="9" transform="translate(983.2,157.7) rotate(76.0)" fill="#000"/></mask>
<rect x="697.9" y="6.7" width="293.0" height="219.0" fill="#ffffff"/>
<path d="M698.5 225.7l36.7 0 3-8.3 4-8.8 18.2-33 6.5-12.9 4.9-11.8 3.5-11.2 1.8-8.8 .9-9.4-.1-9.4-1.1-9.4-1.4-7.7-2.2-8.8-9-29.4-3.1-11.8-2.3-11.2-2.8-19.4-1.9-7.7-56.2 0 0 219zM934.5 225.3l.2 .4 56.2 0 0-219-37.3 0-3 8.3-4 8.8-18.2 33-6.2 12.3-5 11.8-3.5 11.2-2 9.4-.9 9.4 .1 9.4 1.1 9.4 1.4 7.7 2.2 8.8 9 29.4 3.1 11.8 2.3 11.2 2.8 19.4 1.7 7.1z" fill="#ffcccc" fill-rule="evenodd"/>
<path d="M698.5 225.7l17.9 0 4.6-11.8 14.2-31.2 6.5-15.9 2.7-8.2 2.4-8.3 1.8-8.2 1.1-7.7 .8-10 0-10-.9-10-1.7-10.6-4.3-18.2-12.3-42.4-2.8-11.8-3.1-14.7-27.5 0 0 219zM963.3 225.2l.1 .5 27.5 0 0-219-18.5 0-4.6 11.8-14.2 31.2-6.2 15.3-2.9 8.2-2.3 8.3-1.8 8.2-1.2 7.7-.9 10 0 10 .8 10 1.7 10.6 4.3 18.2 12.4 43 2.8 11.8 3 14.1z" fill="#ff9999" fill-rule="evenodd"/>
<path d="M698.5 225.7l.4 0 15.8-37.7 4.3-11.2 3.4-10 3-10.6 2.2-10.6 1.4-10.6 .7-10-.1-8.8-.6-9.4-1.4-10-1.8-10-4.6-18.3-11.9-41.2-4.9-20.6-6.5 0 0 219zM984.5 225.7l6.4 0 0-219-1 0-14.1 33.6-5.1 12.9-3.9 11.2-3.2 11.2-2.3 10.6-1.4 10-.7 10.6 0 9.4 .6 9.4 1.4 10 1.8 10 4.6 18.3 11.9 41.2 4.9 20.6z" fill="#ff6666" fill-rule="evenodd"/>
<path d="M698 189.8l6.4-18.3 2.5-8.8 1.9-8.2 1.6-8.3 1-8.2 .6-7.7 .2-8.2-.8-15.9-2.5-17.1-4.2-18.2-6.8-23.8 0 142.9zM990.9 185.3l0-142.9-6.5 18.5-4.3 16.5-1.6 8.2-1.1 8.2-.6 8.3-.2 7.6 .7 15.9 2.5 17.1 4.1 18.2 6.9 24.2z" fill="#ff3333" fill-rule="evenodd"/>
<path d="M735.2 225.7l3-8.3 4-8.8 19.4-35.3 7.6-15.9 3.2-8.2 2.6-8.3 1.7-7.6 1-7.7 .3-6.5-.1-7-.7-7.1-1.2-7-3.3-13.6-8.5-27.6-3-11.2-2.4-11.8-2.8-19.4-1.9-7.7M953.6 6.7l-3 8.3-4 8.8-19.4 35.3-7.6 15.9-3.2 8.2-2.6 8.3-1.7 7.6-1 7.7-.3 6.5 .1 7 .7 7.1 1.2 7 3.3 13.6 8.5 27.6 3 11.2 2.4 11.8 2.8 19.4 1.9 7.7M716.4 225.7l5.3-13.6 15.3-33.5 6.1-15.9 3-10 2.2-9.4 1.5-9.4 .7-8.9 0-8.2-.5-8.8-1.1-8.9-1.7-8.8-3.9-15.9-11.9-40.9-2.9-12.1-3.1-14.7M972.4 6.7l-5.3 13.6-15.3 33.5-6.1 15.9-3 10-2.2 9.4-1.5 9.4-.7 8.9 0 8.2 .5 8.8 1.1 8.9 1.7 8.8 3.9 15.9 11.9 40.9 2.9 12.1 3.1 14.7M698.9 225.7l17-40.6 3.7-10 3.2-9.5 2.8-10.6 2.1-10 1.3-10 .7-10-.1-8.8-.6-9.4-1.4-10-1.8-10-4.6-18.3-11.9-41.2-4.9-20.6M989.9 6.7l-17 40.6-3.7 10-3.2 9.5-2.8 10.6-2.1 10-1.3 10-.7 10 .1 8.8 .6 9.4 1.4 10 1.8 10 4.6 18.3 11.9 41.2 4.9 20.6M697.9 190l6.5-18.5 2.5-8.8 1.9-8.2 1.6-8.3 1-8.2 .6-7.7 .2-8.2-.8-15.9-2.5-17.1-4.2-18.2-6.8-23.8M990.9 42.4l-6.5 18.5-2.5 8.8-1.9 8.2-1.6 8.3-1 8.2-.6 7.7-.2 8.2 .8 15.9 2.5 17.1 4.2 18.2 6.8 23.8" fill="none" stroke="#000" stroke-opacity="0.42" stroke-width="0.8" mask="url(#mc)"/>
<text class="cl" transform="translate(727.1,17.0) rotate(78.1)" x="0" y="3.6" text-anchor="middle">2</text><text class="cl" transform="translate(746.1,83.2) rotate(76.1)" x="0" y="3.6" text-anchor="middle">2</text><text class="cl" transform="translate(747.1,152.1) rotate(-75.1)" x="0" y="3.6" text-anchor="middle">2</text><text class="cl" transform="translate(704.0,68.7) rotate(75.0)" x="0" y="3.6" text-anchor="middle">4</text><text class="cl" transform="translate(712.0,137.0) rotate(-84.4)" x="0" y="3.6" text-anchor="middle">4</text><text class="cl" transform="translate(943.1,78.7) rotate(-74.6)" x="0" y="3.6" text-anchor="middle">2</text><text class="cl" transform="translate(943.1,147.7) rotate(76.5)" x="0" y="3.6" text-anchor="middle">2</text><text class="cl" transform="translate(961.1,214.6) rotate(78.0)" x="0" y="3.6" text-anchor="middle">2</text><text class="cl" transform="translate(978.2,88.2) rotate(-81.8)" x="0" y="3.6" text-anchor="middle">4</text><text class="cl" transform="translate(983.2,157.7) rotate(76.0)" x="0" y="3.6" text-anchor="middle">4</text>
<mask id="md" maskUnits="userSpaceOnUse" x="0" y="0" width="1000" height="574"><rect x="0" y="0" width="1000" height="574" fill="#fff"/><rect x="-4.0" y="-4.5" width="8.0" height="9" transform="translate(45.1,296.9) rotate(47.0)" fill="#000"/><rect x="-4.0" y="-4.5" width="8.0" height="9" transform="translate(53.5,317.2) rotate(48.1)" fill="#000"/><rect x="-4.0" y="-4.5" width="8.0" height="9" transform="translate(56.0,339.7) rotate(62.7)" fill="#000"/><rect x="-4.0" y="-4.5" width="8.0" height="9" transform="translate(47.8,368.4) rotate(-79.4)" fill="#000"/><rect x="-4.0" y="-4.5" width="8.0" height="9" transform="translate(124.6,335.3) rotate(29.5)" fill="#000"/><rect x="-4.0" y="-4.5" width="8.0" height="9" transform="translate(153.8,333.9) rotate(12.2)" fill="#000"/><rect x="-4.0" y="-4.5" width="8.0" height="9" transform="translate(184.0,322.1) rotate(-4.6)" fill="#000"/><rect x="-4.0" y="-4.5" width="8.0" height="9" transform="translate(202.6,308.1) rotate(-12.4)" fill="#000"/><rect x="-7.0" y="-4.5" width="14.0" height="9" transform="translate(223.2,292.7) rotate(-17.3)" fill="#000"/><rect x="-4.0" y="-4.5" width="8.0" height="9" transform="translate(258.3,369.4) rotate(-81.4)" fill="#000"/><rect x="-4.0" y="-4.5" width="8.0" height="9" transform="translate(293.2,350.7) rotate(-95.0)" fill="#000"/><rect x="-4.0" y="-4.5" width="8.0" height="9" transform="translate(315.2,321.4) rotate(50.0)" fill="#000"/><rect x="-4.0" y="-4.5" width="8.0" height="9" transform="translate(308.2,427.0) rotate(-79.4)" fill="#000"/><rect x="-4.0" y="-4.5" width="8.0" height="9" transform="translate(232.0,460.3) rotate(30.4)" fill="#000"/><rect x="-4.0" y="-4.5" width="8.0" height="9" transform="translate(205.0,462.1) rotate(14.3)" fill="#000"/><rect x="-4.0" y="-4.5" width="8.0" height="9" transform="translate(181.0,471.7) rotate(0.2)" fill="#000"/><rect x="-4.0" y="-4.5" width="8.0" height="9" transform="translate(160.5,485.7) rotate(-9.6)" fill="#000"/><rect x="-7.0" y="-4.5" width="14.0" height="9" transform="translate(140.1,500.0) rotate(-16.2)" fill="#000"/></mask>
<rect x="30.9" y="288.1" width="293.0" height="219.0" fill="#fff5f4"/>
<path d="M31.5 507.1l270.1 0-3.8-4.1-6.2-5.3-27.9-21.8-33.2-26.4-7-5.1-6.5-4.2-6.4-3.6-5.9-2.8-6.5-2.4-6.4-1.8-6.5-1.1-6.4-.5-6.5 .2-7 .8-22.4 4.5-7.6 1.1-3.5 0-3.5-.4-2.4-.7-2.3-1.3-1.8-1.9-1.2-2.7-.5-2.9 .2-3.6 1.8-7 6.5-17.7 1.1-4.7 .4-4.7-.2-4.7-.9-4.1-1.4-4.1-2.1-4.2-4.9-7-6.4-7.1-7.7-7.1-24.6-21-12.4-11.1-10.3-10.2-16.9-18.3-11.5 0 0 219zM312.2 506.9l.2 .2 11.5 0 0-219-270.7 0 3.8 4.1 6.2 5.3 27.9 21.8 33.2 26.4 7 5.1 6.5 4.2 6.4 3.6 5.9 2.8 6.5 2.4 6.4 1.8 6.5 1.1 6.4 .5 6.5-.2 7-.8 22.4-4.5 7.6-1.1 3.5 0 3.5 .4 2.4 .7 2.3 1.3 1.8 1.9 1.2 2.7 .5 2.9-.2 3.6-1.8 7-6.5 17.7-1.1 4.7-.4 4.7 .2 4.7 .9 4.1 1.4 4.1 2.1 4.2 4.9 7 6.4 7.1 7.7 7.1 24.6 21 12.4 11.1 10.3 10.2 16.3 17.7z" fill="#ffebeb" fill-rule="evenodd"/>
<path d="M31.5 507.1l264.3 0-7.1-6.9-11.2-8.9-18.2-13.4-16.4-11.3-11.2-6.9-10.6-5.8-9.3-4.4-9.4-3.4-6.5-1.8-7-1.4-6.5-.7-7.1-.2-8.2 .4-8.2 1.1-28.8 6-10 1.5-5.2 0-4.7-.6-3.6-1.2-3.3-2.2-2.7-2.9-2.2-4.4-1.1-5-.2-5.3 .6-5.3 1.4-5.3 8.2-20.6 1.5-4.7 1-4.7 .5-5.3-.2-5.3-1.1-5.3-1.8-5.3-2.6-5.3-3.3-5.3-4.4-5.9-5.5-6.5-9.4-10-26.3-26.5-19-20-5.8 0 0 219zM318 507l5.9 .1 0-219-264.9 0 7.1 6.9 11.2 8.9 18.2 13.4 16.4 11.3 11.2 6.9 10.6 5.8 9.3 4.4 9.4 3.4 6.5 1.8 7 1.4 6.5 .7 7.1 .2 8.2-.4 8.2-1.1 28.8-6 10-1.5 5.2 0 4.7 .6 3.6 1.2 3.3 2.2 2.7 2.9 2.2 4.4 1.1 5 .2 5.3-.6 5.3-1.4 5.3-8.2 20.6-1.5 4.7-1 4.7-.5 5.3 .2 5.3 1.1 5.3 1.8 5.3 2.6 5.3 3.3 5.3 4.4 5.9 4.9 5.9 10 10.6 26.4 26.6 18.3 19.3z" fill="#ffd8d8" fill-rule="evenodd"/>
<path d="M31.5 507.1l258.4 0-7.6-7.1-11.2-8.7-14.1-9.7-14.1-8.7-11.2-6.2-11.1-5.3-10.6-4-10-2.9-8.8-1.7-8.2-.8-8.2-.2-8.9 .6-7.6 1-8.8 1.7-32.3 7.7-6.4 1.1-5.3 .4-5.9 0-4.7-.8-4.7-1.7-3.6-2.4-2.3-2.3-1.8-2.4-1.7-3.2-1.5-3.9-1.2-4.1-.8-4.7-.3-4.1 .1-4.1 .9-5.9 2.1-6.5 2.6-5.9 7.9-15.9 2.2-5.3 1.4-4.7 1-5.9 .1-5.3-.7-5.3-1.3-5.3-2.4-5.8-3.4-6.5-4.7-7.1-5.4-7-14-15.9-32.4-34.2-.1 219zM323.3 506.6l.6 .5 0-219-259 0 7.6 7.1 11.2 8.7 14.1 9.7 14.1 8.7 11.2 6.2 11.1 5.3 10.6 4 10 2.9 8.8 1.7 8.2 .8 8.2 .2 8.9-.6 7.6-1 8.8-1.7 32.3-7.7 6.4-1.1 5.3-.4 5.9 0 4.7 .8 4.7 1.7 3.6 2.4 2.3 2.3 1.8 2.4 1.7 3.2 1.5 3.9 1.2 4.1 .8 4.7 .3 4.1-.1 4.1-.9 5.9-2.1 6.5-2.6 5.9-7.9 15.9-2.2 5.3-1.4 4.7-1 5.9-.1 5.3 .7 5.3 1.3 5.3 2.4 5.8 3.4 6.5 4.7 7.1 5.4 7 14 15.9 31.8 33.6z" fill="#ffc4c4" fill-rule="evenodd"/>
<path d="M31.5 507.1l252.5 0-8-7.1-10.8-7.9-12.3-7.9-13-7.3-11.1-5.5-11.2-4.5-10.5-3.3-10-2.2-8.2-1.1-8.9-.5-8.8 .2-9.4 .9-8.2 1.4-8.8 1.9-34 8.9-7.7 1.4-7 .8-7.7 0-6.4-.9-5.9-2-4.7-3-2.9-2.9-2-3-1.9-4.1-1.6-4.7-1.4-5.9-1-6.5-.3-5.9 .3-5.2 1.3-7.1 2.5-7.1 3.2-6.5 9.4-16.4 2.4-5.3 1.7-4.7 1.3-5.3 .6-5.3-.2-5.3-.8-5.3-2-6.5-3-6.5-4-7-4.9-7.1-6.5-8.2-8-9.5-22.7-24.4 0 213.4zM323.9 501.5l0-213.4-253.1 0 8 7.1 10.8 7.9 12.3 7.9 13 7.3 11.1 5.5 11.2 4.5 10.5 3.3 10 2.2 8.2 1.1 8.9 .5 8.8-.2 9.4-.9 8.2-1.4 8.8-1.9 34-8.9 7.7-1.4 7-.8 7.7 0 6.4 .9 5.9 2 4.7 3 2.9 2.9 2 3 1.9 4.1 1.6 4.7 1.4 5.9 1 6.5 .3 5.9-.3 5.2-1.3 7.1-2.5 7.1-3.2 6.5-9.4 16.4-2.4 5.3-1.7 4.7-1.3 5.3-.6 5.3 .2 5.3 .8 5.3 2 6.5 3 6.5 4 7 4.9 7.1 6.5 8.2 8 9.5 22.5 24.1z" fill="#ffb1b1" fill-rule="evenodd"/>
<path d="M31.5 507.1l246.4 0-7.8-6.5-10.2-7.1-11.2-6.7-11.7-6.1-11.2-4.9-10.5-3.7-10.6-2.8-10-1.8-8.2-.8-8.8-.2-8.8 .5-9.4 1.2-16.5 3.4-36.4 10-8.8 1.7-8.2 1-10 0-8.8-1.1-7.6-2.4-3-1.5-2.9-2-2.5-2.6-2.3-3.5-1.5-4.1-1.1-4.8-1.2-8.2-.7-9.4-.1-7.7 .6-6.4 1.7-8.3 3-8.2 3.5-7 9.6-16.6 3.8-8.8 1.6-5.3 .7-4.7 .2-4.7-.5-5.3-1.3-5.9-2.3-6.5-3.5-7-4.3-7.1-5.4-7.6-7-8.9-8.2-9.4-9.2-9.9 0 207.7zM323.9 495.8l0-207.7-247 0 7.8 6.5 10.2 7.1 11.2 6.7 11.7 6.1 11.2 4.9 10.5 3.7 10.6 2.8 10 1.8 8.2 .8 8.8 .2 8.8-.5 9.4-1.2 16.5-3.4 36.4-10 8.8-1.7 8.2-1 10 0 8.8 1.1 7.6 2.4 3 1.5 2.9 2 2.5 2.6 2.3 3.5 1.5 4.1 1.1 4.8 1.2 8.2 .7 9.4 .1 7.7-.6 6.4-1.7 8.3-3 8.2-3.5 7-9.6 16.6-3.8 8.8-1.6 5.3-.7 4.7-.2 4.7 .5 5.3 1.3 5.9 2.3 6.5 3.5 7 4.3 7.1 5.4 7.6 6.6 8.3 8.1 9.4 9.3 10z" fill="#ff9d9d" fill-rule="evenodd"/>
<path d="M31.5 507.1l240 0-7.5-5.9-9.4-6.2-10.6-5.8-10.5-5-10-4-10.6-3.3-10-2.3-9.9-1.4-8.3-.6-8.8 .1-8.8 .6-8.8 1.3-16.4 3.6-36.4 10.2-10 2-9.4 1.1-12.3 .2-6.1-.5-6.3-.9-5.3-1.2-4.6-1.4-3.8-1.8-2.7-1.8-2.3-2.3-1.8-3-1.1-3.5-.8-4.7-.4-8.3-.1-17.6 .4-8.3 .7-7 1.9-8.8 3.1-8.9 3.7-7.6 8.9-16.5 3.8-8.8 1.4-4.7 .7-4.2 .4-4.1-.1-4.7-.9-5.9-1.7-5.9-2.6-6.4-3.4-6.5-4.4-7.1-5.5-7.6-6.7-8.3-7.3-8.2 0 201.9zM323.9 490l0-201.9-240.6 0 7.5 5.9 9.4 6.2 10.6 5.8 10.5 5 10 4 10.6 3.3 10 2.3 9.9 1.4 8.3 .6 8.8-.1 8.8-.6 8.8-1.3 16.4-3.6 36.4-10.2 10-2 9.4-1.1 12.3-.2 6.1 .5 6.3 .9 5.3 1.2 4.6 1.4 3.8 1.8 2.7 1.8 2.3 2.3 1.8 3 1.1 3.5 .8 4.7 .4 8.3 .1 17.6-.4 8.3-.7 7-1.9 8.8-3.1 8.9-3.7 7.6-8.9 16.5-3.8 8.8-1.4 4.7-.7 4.2-.4 4.1 .1 4.7 .9 5.9 1.7 5.9 2.6 6.4 3.4 6.5 4.4 7.1 5.5 7.6 6.7 8.3 7.3 8.2z" fill="#ff8989" fill-rule="evenodd"/>
<path d="M31.5 507.1l233.3 0-8.4-6.1-10-5.8-10.6-5.2-11.1-4.4-11.2-3.4-10.6-2.3-10.5-1.4-10.6-.4-12.9 .7-14.1 2.1-14.7 3.5-25.2 7.5-10.6 2.7-11.2 2.2-11.1 1-8.8 .1-9.4-.5-10-1.2-8.2-1.6-5.6-1.6-4.4-2.2-2.9-2.6-1.8-2.9 0 21.8zM323.9 484.1l0-141.9-1.2 20.1-1.1 7.6-1.5 6.5-2 6.5-2.4 6.1-10 20.4-3.2 7.6-2.3 8.3-.8 8.2 .3 5.3 1.1 5.9 1.8 5.9 2.5 5.9 3.5 6.4 4.1 6.5 5.1 7.1 5.7 7zM30.9 452.9l1.3-20.6 1-7.1 1.7-7 1.9-6 2.5-6.4 9.5-19.4 3.1-7 2.5-8.3 1-7.6-.2-5.9-.9-5.9-1.7-5.9-2.7-6.5-3.3-6.4-4.5-7.1-5.1-7.1-6.1-7.6 0 141.9zM167.1 317l7.7 .1 7.6-.3 7.6-.8 7.7-1.3 15.8-3.6 27-7.9 10.4-2.7 11.4-2.1 10.5-1 8.8-.1 9.4 .5 10 1.2 8.2 1.6 5.6 1.6 4.4 2.2 2.9 2.6 1.8 2.9 0-21.8-233.9 0 7.3 5.3 9.3 5.7 10 5 10.6 4.4 10 3.4 10 2.5 9.9 1.7 9.5 .9z" fill="#ff7676" fill-rule="evenodd"/>
<path d="M31.5 507.1l226.2 0-7.8-5.1-8.8-4.8-9.4-4.2-10-3.6-9.4-2.6-9.9-2-9.4-1.1-10-.5-13.5 .8-14.7 2.3-14.1 3.4-33.5 9.7-9.4 2-9.4 1.3-12.9 .6-15.3-.8-18.2-2-6.4-1.3-4.7-1.3 0 9.2zM323.9 477.5l0-93-3.3 9-7.9 17.6-3 7.7-2.2 8.2-.8 8.3 .2 4.7 .8 5.3 1.2 4.7 1.9 5.3 2.4 5.3 2.9 5.3 7.5 11.2zM30.9 410.5l3.3-8.8 7.9-17.6 3-7.7 2.3-8.8 .7-8.3-.3-4.7-.8-5.3-1.3-4.7-2-5.3-2.4-5.3-2.9-5.3-7.5-11 0 93zM163.6 311.7l8.2 .3 8.2-.3 8.3-.8 8.8-1.4 15.8-3.7 35.3-10.2 9.4-1.9 9.4-1.3 12.9-.5 15.2 .8 17.7 2 6.4 1.3 4.7 1.3 0-9.2-226.8 0 7.1 4.7 7.7 4.3 8.2 3.9 8.9 3.4 8.8 2.8 8.2 2 8.8 1.6 8.6 .9z" fill="#ff6262" fill-rule="evenodd"/>
<path d="M31.5 507.1l26.4 0-17-1.7-10-1.3 0 3zM94.9 507.1l155 0-7-4.1-7.7-3.8-8.2-3.3-8.8-2.9-8.2-2-8.8-1.6-8.2-.9-8.8-.3-7.1 .1-7.6 .7-14.7 2.4-14.1 3.5-30.5 9-8.3 1.9-7.6 1.3zM323.9 469.8l0-69.6-5.4 13.3-2.8 8.2-1.7 7.7-.6 7.6 .5 7.7 2 8.2 3.3 8.3 4.5 8.2zM31 394.7l5.5-13.6 2.7-8.2 1.7-7.7 .5-7.6-.6-7.7-2.1-8.2-3.4-8.3-4.4-8 0 69.6zM167.1 307l7.7 0 7.6-.5 7.6-.9 8.2-1.4 14.7-3.5 31.7-9.4 8.3-1.9 7.6-1.3-155.6 0 6.4 3.9 7.1 3.5 7.6 3.2 8.2 2.8 7.7 2.1 8.2 1.7 8.2 1.1 8.3 .6zM323.9 291.1l0-3-27 0 17 1.7 10 1.3z" fill="#ff4e4e" fill-rule="evenodd"/>
<path d="M117.8 507.1l123.4 0-6-3.1-7-3-7.1-2.5-7-2-7-1.5-7.7-1.2-7-.6-7.7-.3-14.1 .8-14.6 2.4-14.1 3.5-24.5 7.5zM323.9 459.6l0-44.3-2 6.4-1.4 5.9-.7 5.3-.3 5.3 .2 5.3 .9 5.3 1.3 5.3 1.9 5.3zM31.1 379.4l1.9-6.5 1.4-5.9 .7-5.3 .2-5.3-.3-5.3-.9-5.3-1.4-5.3-1.8-4.9 0 44.3zM168.3 302.3l7-.1 7.7-.6 14.7-2.2 14.6-3.7 25.1-7.6-123.8 0 6 3.1 6.4 2.8 6.5 2.3 7 2.1 7.1 1.6 7 1.1 7.1 .8 7.2 .3z" fill="#ff3b3b" fill-rule="evenodd"/>
<path d="M134.2 507.1l96.9 0-10.5-4-11.8-3.1-11.7-1.8-11.8-.6-11.7 .6-12.3 1.7-12.4 2.8-14.8 4.4zM166.5 297.5l12.4-.3 12.9-1.6 13.5-3 15.4-4.5-97 0 10 3.9 10.5 2.8 11.2 1.9 11 .8z" fill="#ff2727" fill-rule="evenodd"/>
<path d="M151.9 507.1l66 0-7.3-2-8.2-1.6-8.3-.9-8.2-.3-8.2 .3-8.8 .9-8.2 1.4-9.2 2.2zM165.9 292.8l8.9-.1 9.4-.8 9.3-1.5 9.8-2.3-66.4 0 6.7 1.9 7.7 1.5 7 .9 7.6 .4z" fill="#ff1414" fill-rule="evenodd"/>
<path d="M301.6 507.1l-3.8-4.1-6.2-5.3-27.9-21.8-33.2-26.4-7-5.1-6.5-4.2-6.4-3.6-5.9-2.8-6.5-2.4-6.4-1.8-6.5-1.1-6.4-.5-6.5 .2-7 .8-22.4 4.5-7.6 1.1-3.5 0-3.5-.4-2.4-.7-2.3-1.3-1.8-1.9-1.2-2.7-.5-2.9 .2-3.6 1.8-7 6.5-17.7 1.1-4.7 .4-4.7-.2-4.7-.9-4.1-1.4-4.1-2.1-4.2-4.9-7-6.4-7.1-7.7-7.1-24.6-21-12.4-11.1-10.3-10.2-16.9-18.3M53.2 288.1l3.8 4.1 6.2 5.3 27.9 21.8 33.2 26.4 7 5.1 6.5 4.2 6.4 3.6 5.9 2.8 6.5 2.4 6.4 1.8 6.5 1.1 6.4 .5 6.5-.2 7-.8 22.4-4.5 7.6-1.1 3.5 0 3.5 .4 2.4 .7 2.3 1.3 1.8 1.9 1.2 2.7 .5 2.9-.2 3.6-1.8 7-6.5 17.7-1.1 4.7-.4 4.7 .2 4.7 .9 4.1 1.4 4.1 2.1 4.2 4.9 7 6.4 7.1 7.7 7.1 24.6 21 12.4 11.1 10.3 10.2 16.9 18.3M295.8 507.1l-7.1-6.9-11.2-8.9-18.2-13.4-16.4-11.3-11.2-6.9-10.6-5.8-9.3-4.4-9.4-3.4-6.5-1.8-7-1.4-6.5-.7-7.1-.2-8.2 .4-8.2 1.1-28.8 6-10 1.5-5.2 0-4.7-.6-3.6-1.2-3.3-2.2-2.7-2.9-2.2-4.4-1.1-5-.2-5.3 .6-5.3 1.4-5.3 8.2-20.6 1.5-4.7 1-4.7 .5-5.3-.2-5.3-1.1-5.3-1.8-5.3-2.6-5.3-3.3-5.3-4.4-5.9-5.5-6.5-9.4-10-26.3-26.5-19-20M59 288.1l7.1 6.9 11.2 8.9 18.2 13.4 16.4 11.3 11.2 6.9 10.6 5.8 9.3 4.4 9.4 3.4 6.5 1.8 7 1.4 6.5 .7 7.1 .2 8.2-.4 8.2-1.1 28.8-6 10-1.5 5.2 0 4.7 .6 3.6 1.2 3.3 2.2 2.7 2.9 2.2 4.4 1.1 5 .2 5.3-.6 5.3-1.4 5.3-8.2 20.6-1.5 4.7-1 4.7-.5 5.3 .2 5.3 1.1 5.3 1.8 5.3 2.6 5.3 3.3 5.3 4.4 5.9 5.5 6.5 9.4 10 26.3 26.5 19 20M289.9 507.1l-7.6-7.1-11.2-8.7-14.1-9.7-14.1-8.7-11.2-6.2-11.1-5.3-10.6-4-10-2.9-8.8-1.7-8.2-.8-8.2-.2-8.9 .6-7.6 1-8.8 1.7-32.3 7.7-6.4 1.1-5.3 .4-5.9 0-4.7-.8-4.7-1.7-3.6-2.4-2.3-2.3-1.8-2.4-1.7-3.2-1.5-3.9-1.2-4.1-.8-4.7-.3-4.1 .1-4.1 .9-5.9 2.1-6.5 2.6-5.9 7.9-15.9 2.2-5.3 1.4-4.7 1-5.9 .1-5.3-.7-5.3-1.3-5.3-2.4-5.8-3.4-6.5-4.7-7.1-5.4-7-14-15.9-32.4-34.2M64.9 288.1l7.6 7.1 11.2 8.7 14.1 9.7 14.1 8.7 11.2 6.2 11.1 5.3 10.6 4 10 2.9 8.8 1.7 8.2 .8 8.2 .2 8.9-.6 7.6-1 8.8-1.7 32.3-7.7 6.4-1.1 5.3-.4 5.9 0 4.7 .8 4.7 1.7 3.6 2.4 2.3 2.3 1.8 2.4 1.7 3.2 1.5 3.9 1.2 4.1 .8 4.7 .3 4.1-.1 4.1-.9 5.9-2.1 6.5-2.6 5.9-7.9 15.9-2.2 5.3-1.4 4.7-1 5.9-.1 5.3 .7 5.3 1.3 5.3 2.4 5.8 3.4 6.5 4.7 7.1 5.4 7 14 15.9 32.4 34.2M284 507.1l-8-7.1-10.8-7.9-12.3-7.9-13-7.3-11.1-5.5-11.2-4.5-10.5-3.3-10-2.2-8.2-1.1-8.9-.5-8.8 .2-9.4 .9-8.2 1.4-8.8 1.9-34 8.9-7.7 1.4-7 .8-7.7 0-6.4-.9-5.9-2-4.7-3-2.9-2.9-2-3-1.9-4.1-1.6-4.7-1.4-5.9-1-6.5-.3-5.9 .3-5.2 1.3-7.1 2.5-7.1 3.2-6.5 9.4-16.4 2.4-5.3 1.7-4.7 1.3-5.3 .6-5.3-.2-5.3-.8-5.3-2-6.5-3-6.5-4-7-4.9-7.1-6.5-8.2-8-9.5-22.7-24.4M70.8 288.1l8 7.1 10.8 7.9 12.3 7.9 13 7.3 11.1 5.5 11.2 4.5 10.5 3.3 10 2.2 8.2 1.1 8.9 .5 8.8-.2 9.4-.9 8.2-1.4 8.8-1.9 34-8.9 7.7-1.4 7-.8 7.7 0 6.4 .9 5.9 2 4.7 3 2.9 2.9 2 3 1.9 4.1 1.6 4.7 1.4 5.9 1 6.5 .3 5.9-.3 5.2-1.3 7.1-2.5 7.1-3.2 6.5-9.4 16.4-2.4 5.3-1.7 4.7-1.3 5.3-.6 5.3 .2 5.3 .8 5.3 2 6.5 3 6.5 4 7 4.9 7.1 6.5 8.2 8 9.5 22.7 24.4M277.9 507.1l-7.8-6.5-10.2-7.1-11.2-6.7-11.7-6.1-11.2-4.9-10.5-3.7-10.6-2.8-10-1.8-8.2-.8-8.8-.2-8.8 .5-9.4 1.2-16.5 3.4-36.4 10-8.8 1.7-8.2 1-10 0-8.8-1.1-7.6-2.4-3-1.5-2.9-2-2.5-2.6-2.3-3.5-1.5-4.1-1.1-4.8-1.2-8.2-.7-9.4-.1-7.7 .6-6.4 1.7-8.3 3-8.2 3.5-7 9.6-16.6 3.8-8.8 1.6-5.3 .7-4.7 .2-4.7-.5-5.3-1.3-5.9-2.3-6.5-3.5-7-4.3-7.1-5.4-7.6-7-8.9-8.2-9.4-9.2-9.9M76.9 288.1l7.8 6.5 10.2 7.1 11.2 6.7 11.7 6.1 11.2 4.9 10.5 3.7 10.6 2.8 10 1.8 8.2 .8 8.8 .2 8.8-.5 9.4-1.2 16.5-3.4 36.4-10 8.8-1.7 8.2-1 10 0 8.8 1.1 7.6 2.4 3 1.5 2.9 2 2.5 2.6 2.3 3.5 1.5 4.1 1.1 4.8 1.2 8.2 .7 9.4 .1 7.7-.6 6.4-1.7 8.3-3 8.2-3.5 7-9.6 16.6-3.8 8.8-1.6 5.3-.7 4.7-.2 4.7 .5 5.3 1.3 5.9 2.3 6.5 3.5 7 4.3 7.1 5.4 7.6 7 8.9 8.2 9.4 9.2 9.9M271.5 507.1l-7.5-5.9-9.4-6.2-10.6-5.8-10.5-5-10-4-10.6-3.3-10-2.3-9.9-1.4-8.3-.6-8.8 .1-8.8 .6-8.8 1.3-16.4 3.6-36.4 10.2-10 2-9.4 1.1-12.3 .2-6.1-.5-6.3-.9-5.3-1.2-4.6-1.4-3.8-1.8-2.7-1.8-2.3-2.3-1.8-3-1.1-3.5-.8-4.7-.4-8.3-.1-17.6 .4-8.3 .7-7 1.9-8.8 3.1-8.9 3.7-7.6 8.9-16.5 3.8-8.8 1.4-4.7 .7-4.2 .4-4.1-.1-4.7-.9-5.9-1.7-5.9-2.6-6.4-3.4-6.5-4.4-7.1-5.5-7.6-6.7-8.3-7.3-8.2M83.3 288.1l7.5 5.9 9.4 6.2 10.6 5.8 10.5 5 10 4 10.6 3.3 10 2.3 9.9 1.4 8.3 .6 8.8-.1 8.8-.6 8.8-1.3 16.4-3.6 36.4-10.2 10-2 9.4-1.1 12.3-.2 6.1 .5 6.3 .9 5.3 1.2 4.6 1.4 3.8 1.8 2.7 1.8 2.3 2.3 1.8 3 1.1 3.5 .8 4.7 .4 8.3 .1 17.6-.4 8.3-.7 7-1.9 8.8-3.1 8.9-3.7 7.6-8.9 16.5-3.8 8.8-1.4 4.7-.7 4.2-.4 4.1 .1 4.7 .9 5.9 1.7 5.9 2.6 6.4 3.4 6.5 4.4 7.1 5.5 7.6 6.7 8.3 7.3 8.2M264.8 507.1l-7.2-5.3-8.3-5-9.4-4.9-9.4-4.1-9.4-3.4-9.3-2.7-9.4-1.9-8.9-1.2-8.2-.5-8.8 .1-8.8 .7-8.8 1.2-16.4 3.7-28.2 8.2-10.6 2.8-11.2 2-11.1 1.1-8.8 0-9.4-.6-10-1.2-8.2-1.6-5.3-1.7-4.1-2-2.9-2.6-1.8-2.9M30.9 453l1.2-20.1 1.1-7.6 1.5-6.5 2-6.5 2.4-6.1 10-20.4 3.2-7.6 2.3-8.3 .8-8.2-.3-5.3-1.1-5.9-1.8-5.9-2.8-6.4-3.5-6.5-4.2-6.5-5.1-7.1-5.7-7M323.9 342.2l-1.2 20.1-1.1 7.6-1.5 6.5-2 6.5-2.4 6.1-10 20.4-3.2 7.6-2.3 8.3-.8 8.2 .3 5.3 1.1 5.9 1.8 5.9 2.8 6.4 3.5 6.5 4.2 6.5 5.1 7.1 5.7 7M90 288.1l7.2 5.3 8.3 5 9.4 4.9 9.4 4.1 9.4 3.4 9.3 2.7 9.4 1.9 8.9 1.2 8.2 .5 8.8-.1 8.8-.7 8.8-1.2 16.4-3.7 28.2-8.2 10.6-2.8 11.2-2 11.1-1.1 8.8 0 9.4 .6 10 1.2 8.2 1.6 5.3 1.7 4.1 2 2.9 2.6 1.8 2.9M257.7 507.1l-7.2-4.8-8.2-4.5-8.8-4.1-9.4-3.5-9.4-2.8-8.8-2-9.4-1.4-8.8-.7-7.7 0-7.6 .4-7.6 .8-8.2 1.4-15.3 3.6-34.1 9.9-10 2.1-9.4 1.3-12.9 .5-15.2-.8-17.7-2-6.4-1.3-4.7-1.3M30.9 410.7l3.3-9 7.9-17.6 3-7.7 2.3-8.8 .7-8.3-.3-4.7-.8-5.3-1.3-4.7-2-5.3-2.4-5.3-2.9-5.3-7.5-11M323.9 384.5l-3.3 9-7.9 17.6-3 7.7-2.3 8.8-.7 8.3 .3 4.7 .8 5.3 1.3 4.7 2 5.3 2.4 5.3 2.9 5.3 7.5 11M97.1 288.1l7.2 4.8 8.2 4.5 8.8 4.1 9.4 3.5 9.4 2.8 8.8 2 9.4 1.4 8.8 .7 7.7 0 7.6-.4 7.6-.8 8.2-1.4 15.3-3.6 34.1-9.9 10-2.1 9.4-1.3 12.9-.5 15.2 .8 17.7 2 6.4 1.3 4.7 1.3M57.9 507.1l-17-1.7-10-1.3M249.9 507.1l-7-4.1-7.7-3.8-8.2-3.3-8.8-2.9-8.2-2-8.8-1.6-8.2-.9-8.8-.3-7.1 .1-7.6 .7-14.7 2.4-14.1 3.5-30.5 9-8.3 1.9-7.6 1.3M323.9 400.2l-5.4 13.3-2.8 8.2-1.7 7.7-.6 7.6 .5 7.7 2 8.2 3.3 8.3 4.7 8.6M30.9 395l5.4-13.3 2.8-8.2 1.7-7.7 .6-7.6-.5-7.7-2-8.2-3.3-8.3-4.7-8.6M104.9 288.1l7 4.1 7.7 3.8 8.2 3.3 8.8 2.9 8.2 2 8.8 1.6 8.2 .9 8.8 .3 7.1-.1 7.6-.7 14.7-2.4 14.1-3.5 30.5-9 8.3-1.9 7.6-1.3M296.9 288.1l17 1.7 10 1.3M241.2 507.1l-6-3.1-7-3-7.1-2.5-7-2-7-1.5-7.7-1.2-7-.6-7.7-.3-14.1 .8-14.6 2.4-14.1 3.5-24.5 7.5M323.9 415.3l-2 6.4-1.4 5.9-.7 5.3-.3 5.3 .2 5.3 .9 5.3 1.3 5.3 2 5.5M30.9 379.9l2-6.4 1.4-5.9 .7-5.3 .3-5.3-.2-5.3-.9-5.3-1.3-5.3-2-5.5M113.6 288.1l6 3.1 7 3 7.1 2.5 7 2 7 1.5 7.7 1.2 7 .6 7.7 .3 14.1-.8 14.6-2.4 14.1-3.5 24.5-7.5M231.1 507.1l-10.5-4-11.8-3.1-11.7-1.8-11.8-.6-11.7 .6-12.3 1.7-12.4 2.8-14.8 4.4M123.7 288.1l10.5 4 11.8 3.1 11.7 1.8 11.8 .6 11.7-.6 12.3-1.7 12.4-2.8 14.8-4.4M217.9 507.1l-7.3-2-8.2-1.6-8.3-.9-8.2-.3-8.2 .3-8.8 .9-8.2 1.4-9.2 2.2M136.9 288.1l7.3 2 8.2 1.6 8.3 .9 8.2 .3 8.2-.3 8.8-.9 8.2-1.4 9.2-2.2" fill="none" stroke="#000" stroke-opacity="0.42" stroke-width="0.8" mask="url(#md)"/>
<text class="cl" transform="translate(45.1,296.9) rotate(47.0)" x="0" y="3.6" text-anchor="middle">2</text><text class="cl" transform="translate(53.5,317.2) rotate(48.1)" x="0" y="3.6" text-anchor="middle">4</text><text class="cl" transform="translate(56.0,339.7) rotate(62.7)" x="0" y="3.6" text-anchor="middle">6</text><text class="cl" transform="translate(47.8,368.4) rotate(-79.4)" x="0" y="3.6" text-anchor="middle">8</text><text class="cl" transform="translate(124.6,335.3) rotate(29.5)" x="0" y="3.6" text-anchor="middle">2</text><text class="cl" transform="translate(153.8,333.9) rotate(12.2)" x="0" y="3.6" text-anchor="middle">4</text><text class="cl" transform="translate(184.0,322.1) rotate(-4.6)" x="0" y="3.6" text-anchor="middle">6</text><text class="cl" transform="translate(202.6,308.1) rotate(-12.4)" x="0" y="3.6" text-anchor="middle">8</text><text class="cl" transform="translate(223.2,292.7) rotate(-17.3)" x="0" y="3.6" text-anchor="middle">10</text><text class="cl" transform="translate(258.3,369.4) rotate(-81.4)" x="0" y="3.6" text-anchor="middle">2</text><text class="cl" transform="translate(293.2,350.7) rotate(-95.0)" x="0" y="3.6" text-anchor="middle">4</text><text class="cl" transform="translate(315.2,321.4) rotate(50.0)" x="0" y="3.6" text-anchor="middle">6</text><text class="cl" transform="translate(308.2,427.0) rotate(-79.4)" x="0" y="3.6" text-anchor="middle">8</text><text class="cl" transform="translate(232.0,460.3) rotate(30.4)" x="0" y="3.6" text-anchor="middle">2</text><text class="cl" transform="translate(205.0,462.1) rotate(14.3)" x="0" y="3.6" text-anchor="middle">4</text><text class="cl" transform="translate(181.0,471.7) rotate(0.2)" x="0" y="3.6" text-anchor="middle">6</text><text class="cl" transform="translate(160.5,485.7) rotate(-9.6)" x="0" y="3.6" text-anchor="middle">8</text><text class="cl" transform="translate(140.1,500.0) rotate(-16.2)" x="0" y="3.6" text-anchor="middle">10</text>
<mask id="me" maskUnits="userSpaceOnUse" x="0" y="0" width="1000" height="574"><rect x="0" y="0" width="1000" height="574" fill="#fff"/><rect x="-4.0" y="-4.5" width="8.0" height="9" transform="translate(408.1,308.9) rotate(49.2)" fill="#000"/><rect x="-4.0" y="-4.5" width="8.0" height="9" transform="translate(408.5,326.8) rotate(58.0)" fill="#000"/><rect x="-4.0" y="-4.5" width="8.0" height="9" transform="translate(404.8,344.7) rotate(67.8)" fill="#000"/><rect x="-4.0" y="-4.5" width="8.0" height="9" transform="translate(397.8,364.9) rotate(80.4)" fill="#000"/><rect x="-7.0" y="-4.5" width="14.0" height="9" transform="translate(386.0,383.6) rotate(-85.9)" fill="#000"/><rect x="-4.0" y="-4.5" width="8.0" height="9" transform="translate(487.2,338.7) rotate(22.5)" fill="#000"/><rect x="-4.0" y="-4.5" width="8.0" height="9" transform="translate(500.6,319.7) rotate(7.6)" fill="#000"/><rect x="-4.0" y="-4.5" width="8.0" height="9" transform="translate(510.9,300.9) rotate(-0.5)" fill="#000"/><rect x="-4.0" y="-4.5" width="8.0" height="9" transform="translate(577.6,354.0) rotate(86.4)" fill="#000"/><rect x="-4.0" y="-4.5" width="8.0" height="9" transform="translate(605.5,347.7) rotate(-86.7)" fill="#000"/><rect x="-4.0" y="-4.5" width="8.0" height="9" transform="translate(626.0,343.1) rotate(-85.3)" fill="#000"/><rect x="-4.0" y="-4.5" width="8.0" height="9" transform="translate(644.6,329.0) rotate(87.1)" fill="#000"/><rect x="-7.0" y="-4.5" width="14.0" height="9" transform="translate(643.0,395.5) rotate(-76.4)" fill="#000"/><rect x="-4.0" y="-4.5" width="8.0" height="9" transform="translate(464.3,460.1) rotate(1.6)" fill="#000"/><rect x="-4.0" y="-4.5" width="8.0" height="9" transform="translate(436.4,484.5) rotate(25.7)" fill="#000"/><rect x="-4.0" y="-4.5" width="8.0" height="9" transform="translate(406.4,492.1) rotate(65.4)" fill="#000"/><rect x="-4.0" y="-4.5" width="8.0" height="9" transform="translate(382.7,487.7) rotate(77.9)" fill="#000"/></mask>
<rect x="365.9" y="288.1" width="293.0" height="219.0" fill="#ffffff"/>
<path d="M366.5 507.1l249.2 0-9.6-6.6-10-8.1-8.8-8.3-18.8-18.8-10-8.8-11.2-8.2-5.2-3.1-5.3-2.7-5.3-2.3-5.9-1.8-5.3-1.1-5.3-.6-5.8 0-5.9 .5-19.4 3.5-6.4 .6-3.6-.1-2.9-.6-2.3-1.1-1.7-1.3-1.3-1.8-.9-2.3-.4-2.9 .3-3.6 1.5-6.5 5.7-17 .9-4.7 .5-4.7-.2-4.8-.8-4.7-1.6-5.3-2.2-5.3-3.8-7-4.5-7.1-5.5-7.6-6.7-8.3-13.2-14.7-29.7-30.6-5.8-6.5-3.8-4.7-29.6 0 0 219zM629 506.6l.3 .5 29.6 0 0-219-249.8 0 9.6 6.6 10 8.1 8.8 8.3 18.8 18.8 10 8.8 11.2 8.2 5.2 3.1 5.3 2.7 5.3 2.3 5.9 1.8 5.3 1.1 5.3 .6 5.8 0 5.9-.5 19.4-3.5 6.4-.6 3.6 .1 2.9 .6 2.3 1.1 1.7 1.3 1.3 1.8 .9 2.3 .4 2.9-.3 3.6-1.5 6.5-5.7 17-.9 4.7-.5 4.7 .2 4.8 .8 4.7 1.6 5.3 2.2 5.3 3.8 7 4.5 7.1 5.5 7.6 6.7 8.3 13.2 14.7 29.6 30.4 9.3 10.8z" fill="#ffebeb" fill-rule="evenodd"/>
<path d="M366.5 507.1l242.7 0-14.4-10-25.7-19.8-11.2-8-12.3-7.3-6.5-3-5.9-2.3-5.8-1.7-6.5-1.3-6.4-.7-6.5 0-11.7 1.1-23 4.1-8.8 .5-4.1-.4-3.5-1.1-2.9-1.5-2.4-1.9-2-2.6-1.7-3.6-1-4.1-.3-4.1 .4-4.7 .8-4.7 5.9-21.8 1.1-5.3 .7-5.3 .1-6.5-.6-5.9-1.2-5.8-2.1-6.5-3.3-7.7-4.7-8.8-5.8-9.4-6.5-9.4-14.8-18.9-26.3-30.6-24.4 0 0 219zM634.2 506.7l.3 .4 24.4 0 0-219-243.3 0 14.4 10 25.7 19.8 11.2 8 12.3 7.3 6.5 3 5.9 2.3 5.8 1.7 6.5 1.3 6.4 .7 6.5 0 11.7-1.1 23-4.1 8.8-.5 4.1 .4 3.5 1.1 2.9 1.5 2.4 1.9 2 2.6 1.7 3.6 1 4.1 .3 4.1-.4 4.7-.8 4.7-5.9 21.8-1.1 5.3-.7 5.3-.1 5.9 .5 5.9 1.2 5.9 2 6.4 3.5 8.3 4.3 8.2 5.8 9.4 6.5 9.4 14.7 18.9 26.3 30.6z" fill="#ffd8d8" fill-rule="evenodd"/>
<path d="M366.5 507.1l235.5 0-31.8-20.2-13.5-7.9-7-3.5-6.5-2.9-6.4-2.3-6.5-1.8-6.4-1.3-6.5-.8-6.5-.2-6.4 .2-12.4 1.7-25.2 5.1-5.3 .7-4.7 .2-5.3-.5-4.1-1-3.9-2-3.1-2.5-3.2-4-2.7-5.3-1.6-5.9-.6-6.4 .3-5.9 .9-5.9 6.6-25.3 1.1-5.9 .8-5.9 .2-6.5-.4-6.4-1-6.5-1.7-6.5-3-8.2-4-8.9-5.1-9.4-6.4-10.6-6.8-10-7.8-10.6-21-25.9-19.2 0 0 219zM639.5 506.9l19.4 .2 0-219-236.1 0 31.8 20.2 13.5 7.9 7 3.5 6.5 2.9 6.4 2.3 6.5 1.8 6.4 1.3 6.5 .8 6.5 .2 6.4-.2 12.4-1.7 25.2-5.1 5.3-.7 4.7-.2 5.3 .5 4.1 1 3.9 2 3.1 2.5 3.2 4 2.7 5.3 1.6 5.9 .6 6.4-.3 5.9-.9 5.9-6.6 25.3-1.1 5.9-.8 5.9-.2 6.5 .4 6.4 1 6.5 1.7 6.5 3 8.2 4 8.9 5.1 9.4 6.4 10.6 6.8 10 7.8 10.6 20.5 25.3z" fill="#ffc4c4" fill-rule="evenodd"/>
<path d="M366.5 507.1l227.5 0-23.2-12.7-15.8-7.6-7.1-2.8-7-2.4-7.1-1.9-6.4-1.3-6.5-.8-6.4-.3-6.5 .1-7.1 .5-12.3 2-27.6 6-6.4 .9-5.3 .4-5.9-.3-4.7-1-4.7-2.2-3.5-2.9-2.1-2.6-2-3-3.4-7.6-2.1-8.2-.8-8.2 .4-7.1 1.1-7.1 7.1-27 1.4-6.5 .8-5.9 .4-7.1-.3-6.4-.8-6.5-1.5-7.1-2.8-8.8-3.8-9.4-4.8-10-5.6-10-6.6-10.6-7.3-10.6-7.8-10.6-9.8-12.4-14.3 0 0 219zM644.2 506.6l.4 .5 14.3 0 0-219-228.1 0 23.2 12.7 15.8 7.6 7.1 2.8 7 2.4 7.1 1.9 6.4 1.3 6.5 .8 6.4 .3 6.5-.1 7.1-.5 12.3-2 27.6-6 6.4-.9 5.3-.4 5.9 .3 4.7 1 4.7 2.2 3.5 2.9 2.1 2.6 2 3 3.4 7.6 2.1 8.2 .8 8.2-.4 7.1-1.1 7.1-7.1 27-1.4 6.5-.8 5.9-.4 7.1 .3 6.4 .8 6.5 1.5 7.1 2.8 8.8 3.5 8.8 4.5 9.5 5.9 10.5 6.5 10.6 7.2 10.6 7.9 10.6 9.8 12.4z" fill="#ffb1b1" fill-rule="evenodd"/>
<path d="M366.5 507.1l218.4 0-18.8-8.7-14.6-5.6-13.6-3.8-6.4-1.3-7.1-.9-12.9-.5-13.5 1.1-12.9 2.2-29.4 6.2-7.6 1.1-6.5 .6-6.4-.1-5.9-1.1-4.7-2-3.9-3.1-2.4-3-1.9-3.1-1.8-3.9-2-5.3-2.7-11-.6-4.9-.3-5.3 .4-7.7 1.3-7.6 1.8-7.7 6.1-21.2 1.4-6.4 1-6.5 .6-7.1-.1-7-.7-7.1-1.3-7.1-2.4-8.8-3.4-9.4-4.1-9.4-5.4-10.6-6-10.6-6.8-10.6-7.5-10.6-8.5-11.2-9.5 0 0 219zM649.5 507.1l9.4 0 0-219-219 0 18.8 8.7 14.6 5.6 13.6 3.8 6.4 1.3 7.1 .9 12.9 .5 13.5-1.1 12.9-2.2 29.4-6.2 7.6-1.1 6.5-.6 6.4 .1 5.9 1.1 4.7 2 3.9 3.1 2.4 3 1.9 3.1 1.8 3.9 2 5.3 2.7 11 .6 4.9 .3 5.3-.4 7.7-1.3 7.6-1.8 7.7-6.1 21.2-1.4 6.4-1 6.5-.6 7.1 .1 7 .7 7.1 1.3 7.1 2.4 8.8 3.4 9.4 4.1 9.4 5.4 10.6 6 10.6 6.8 10.6 7.5 10.6 8.5 11.2z" fill="#ff9d9d" fill-rule="evenodd"/>
<path d="M366.5 507.1l207.9 0-14.7-5.5-13.5-4-12.4-2.4-12.3-1.3-12.3 0-13.5 1.2-13.5 2.2-31.7 6.2-8.9 1.3-7.6 .7-8.2-.2-6.5-1.1-4.7-2-2.3-1.6-1.9-1.8-2.2-2.9-1.9-3.5-1.9-4.7-2-6.5-1.7-7.1-1.2-6.5-.7-5.8-.1-5.3 .5-7.7 1.6-8.2 8.6-29.5 2.7-12.9 .8-7.1 .2-7-.4-7.1-1.1-7.7-2.1-8.8-2.9-9.4-4-10-4.9-10.6-5.7-10.6-6.3-10.6-7.1-10.6-7.8-10.6-4.9 0 0 219zM653.6 506.6l.4 .5 4.9 0 0-219-208.5 0 14.7 5.5 13.5 4 12.4 2.4 12.3 1.3 12.3 0 13.5-1.2 13.5-2.2 31.7-6.2 8.9-1.3 7.6-.7 8.2 .2 6.5 1.1 4.7 2 2.3 1.6 1.9 1.8 2.2 2.9 1.9 3.5 1.9 4.7 2 6.5 1.7 7.1 1.2 6.5 .7 5.8 .1 5.3-.5 7.7-1.6 8.2-8.6 29.5-2.7 12.9-.8 7.1-.2 7 .4 7.1 1.1 7.7 2.1 8.8 2.9 9.4 4 10 4.9 10.6 5.7 10.6 6 10 7 10.6 7.7 10.6z" fill="#ff8989" fill-rule="evenodd"/>
<path d="M366.5 507.1l36.2 0-2.8-2.8-2-3.1-1.8-4.1-1.8-5.3-2.5-10-1.7-8.9-.9-7-.3-7.1 .7-8.2 1.9-8.9 2.2-7.6 6.5-20 3-11.2 1.6-10 .6-10-.7-10.6-1.8-10.6-3.1-11.2-4.3-11.8-5.9-12.9-6.6-12.4-7.9-12.9-8.7-12.4-.5 0 0 219zM461 507.1l100.2 0-12.1-3.3-11.2-2.2-11.1-1.3-11.2-.5-11.1 .5-11.8 1.2-12.3 1.9-19.7 3.7zM658.3 507l.6 .1 0-219-36.8 0 2.8 2.8 2 3.1 1.8 4.1 1.8 5.3 2.5 10 1.7 8.9 .9 7 .3 7.1-.7 8.2-1.9 8.9-2.2 7.6-6.5 20-3 11.2-1.6 10-.6 9.4 .6 10.6 1.8 10.6 3 11.2 4.3 11.8 5.5 12.3 6.8 13 7.9 12.9 8.6 12.4zM502.7 295.2l12.3 0 13.5-1 14.7-2.2 20.9-3.9-100.5 0 9.7 2.7 10 2.2 9.4 1.4 9.6 .8z" fill="#ff7676" fill-rule="evenodd"/>
<path d="M366.5 507.1l22.2 0-1.7-3.8-1.5-5-4.3-19.5-1.4-11.2 0-9.4 1-7.6 2-8.3 9.3-27 3.4-11.8 2.1-11.8 .7-11.2-.5-9.4-1.5-10-2.7-10.6-3.7-11.2-4.6-11.2-5.7-11.7-6.5-11.8-7.2-11.2 0 213.7zM488.6 507.1l52.6 0-12.7-1.6-12.9-.5-12.9 .5-14.6 1.6zM658.9 501.8l0-213.7-22.8 0 1.7 3.8 1.5 5 4.3 19.5 1.4 11.2 0 9.4-1 7.6-2 8.3-9.3 27-3.4 11.8-2.1 11.2-.7 11.2 .5 10 1.5 10 2.7 10.6 3.5 10.6 4.8 11.8 5.7 11.7 6.5 11.8 7.2 11.2zM499.8 289.9l8.8 .3 8.8-.2 9.4-.7 9.9-1.2-53.1 0 8 1.1 8 .7z" fill="#ff6262" fill-rule="evenodd"/>
<path d="M366.5 507.1l11 0-2.2-9.4-4-21.8-.7-8.3 .4-8.2 1.1-7.1 2.2-8.2 10.4-28.3 3.8-12.3 1.5-6.5 1-6.5 .6-5.8 .2-6.5-.5-8.9-1.2-8.8-2-9.4-3-10-3.7-10-4.6-10.6-5.3-10.6-5.6-9.9 0 207.1zM658.9 495.2l0-207.1-11.6 0 2.2 9.4 4 21.8 .7 8.3-.4 8.2-1.1 7.1-2.2 8.2-10.4 28.3-3.8 12.3-2.5 12.4-.6 5.9-.2 6.4 .4 8.9 1.2 8.8 2 9.4 2.9 10 3.6 10 4.6 10.6 5.3 10.6 5.6 10z" fill="#ff4e4e" fill-rule="evenodd"/>
<path d="M366.5 507.1l.8 0-1.4-8.9 0 8.9zM658.9 487.7l0-139.3-2.9 8-8.7 21.8-4.2 12.3-1.7 7.1-1.3 7.1-.8 6.4-.2 7.1 .2 7.7 .9 8.2 1.6 8.2 2 8.3 3 9.4 3.3 8.8 3.9 8.8 4.6 9.5zM366 446.5l11.8-30.1 4-12.3 1.8-7.1 1.2-7.1 .7-6.4 .2-7.1-.3-7.6-.9-8.3-1.6-8.2-2.1-8.3-2.8-8.8-3.6-9.4-4.1-9.4-4.4-8.9 0 139.3zM658.9 297l0-8.9-1.4 0 1.4 8.8z" fill="#ff3b3b" fill-rule="evenodd"/>
<path d="M658.9 478.9l0-113.4-6.9 16.8-4 12.9-1.5 6.5-1 6.5-.8 12.4 .2 6.4 .7 7.1 2.6 14.1 4.6 15.3 6.1 15.3zM366 429.4l6.8-16.5 4-12.9 1.5-6.5 1-6.5 .8-12.4-.2-6.4-.7-7.1-2.6-14.1-4.6-15.3-6.1-15.4 0 113.4z" fill="#ff2727" fill-rule="evenodd"/>
<path d="M658.9 468.3l0-88.5-4 11.3-2.8 10.6-1.6 10-.5 10.6 .5 10.6 1.6 11.2 2.8 11.8 4 12.3zM365.9 415.3l4-11.2 2.8-10.6 1.6-10 .5-10.6-.6-11.2-1.7-11.2-2.8-11.8-3.8-11.8 0 88.5z" fill="#ff1414" fill-rule="evenodd"/>
<path d="M615.7 507.1l-9.6-6.6-10-8.1-8.8-8.3-18.8-18.8-10-8.8-11.2-8.2-5.2-3.1-5.3-2.7-5.3-2.3-5.9-1.8-5.3-1.1-5.3-.6-5.8 0-5.9 .5-19.4 3.5-6.4 .6-3.6-.1-2.9-.6-2.3-1.1-1.7-1.3-1.3-1.8-.9-2.3-.4-2.9 .3-3.6 1.5-6.5 5.7-17 .9-4.7 .5-4.7-.2-4.8-.8-4.7-1.6-5.3-2.2-5.3-3.8-7-4.5-7.1-5.5-7.6-6.7-8.3-13.2-14.7-29.7-30.6-5.8-6.5-3.8-4.7M409.1 288.1l9.6 6.6 10 8.1 8.8 8.3 18.8 18.8 10 8.8 11.2 8.2 5.2 3.1 5.3 2.7 5.3 2.3 5.9 1.8 5.3 1.1 5.3 .6 5.8 0 5.9-.5 19.4-3.5 6.4-.6 3.6 .1 2.9 .6 2.3 1.1 1.7 1.3 1.3 1.8 .9 2.3 .4 2.9-.3 3.6-1.5 6.5-5.7 17-.9 4.7-.5 4.7 .2 4.8 .8 4.7 1.6 5.3 2.2 5.3 3.8 7 4.5 7.1 5.5 7.6 6.7 8.3 13.2 14.7 29.7 30.6 5.8 6.5 3.8 4.7M609.2 507.1l-14.4-10-25.7-19.8-11.2-8-12.3-7.3-6.5-3-5.9-2.3-5.8-1.7-6.5-1.3-6.4-.7-6.5 0-11.7 1.1-23 4.1-8.8 .5-4.1-.4-3.5-1.1-2.9-1.5-2.4-1.9-2-2.6-1.7-3.6-1-4.1-.3-4.1 .4-4.7 .8-4.7 5.9-21.8 1.1-5.3 .7-5.3 .1-6.5-.6-5.9-1.2-5.8-2.1-6.5-3.3-7.7-4.7-8.8-5.8-9.4-6.5-9.4-14.8-18.9-26.3-30.6M415.6 288.1l14.4 10 25.7 19.8 11.2 8 12.3 7.3 6.5 3 5.9 2.3 5.8 1.7 6.5 1.3 6.4 .7 6.5 0 11.7-1.1 23-4.1 8.8-.5 4.1 .4 3.5 1.1 2.9 1.5 2.4 1.9 2 2.6 1.7 3.6 1 4.1 .3 4.1-.4 4.7-.8 4.7-5.9 21.8-1.1 5.3-.7 5.3-.1 6.5 .6 5.9 1.2 5.8 2.1 6.5 3.3 7.7 4.7 8.8 5.8 9.4 6.5 9.4 14.8 18.9 26.3 30.6M602 507.1l-31.8-20.2-13.5-7.9-7-3.5-6.5-2.9-6.4-2.3-6.5-1.8-6.4-1.3-6.5-.8-6.5-.2-6.4 .2-12.4 1.7-25.2 5.1-5.3 .7-4.7 .2-5.3-.5-4.1-1-3.9-2-3.1-2.5-3.2-4-2.7-5.3-1.6-5.9-.6-6.4 .3-5.9 .9-5.9 6.6-25.3 1.1-5.9 .8-5.9 .2-6.5-.4-6.4-1-6.5-1.7-6.5-3-8.2-4-8.9-5.1-9.4-6.4-10.6-6.8-10-7.8-10.6-21-25.9M422.8 288.1l31.8 20.2 13.5 7.9 7 3.5 6.5 2.9 6.4 2.3 6.5 1.8 6.4 1.3 6.5 .8 6.5 .2 6.4-.2 12.4-1.7 25.2-5.1 5.3-.7 4.7-.2 5.3 .5 4.1 1 3.9 2 3.1 2.5 3.2 4 2.7 5.3 1.6 5.9 .6 6.4-.3 5.9-.9 5.9-6.6 25.3-1.1 5.9-.8 5.9-.2 6.5 .4 6.4 1 6.5 1.7 6.5 3 8.2 4 8.9 5.1 9.4 6.4 10.6 6.8 10 7.8 10.6 21 25.9M594 507.1l-23.2-12.7-15.8-7.6-7.1-2.8-7-2.4-7.1-1.9-6.4-1.3-6.5-.8-6.4-.3-6.5 .1-7.1 .5-12.3 2-27.6 6-6.4 .9-5.3 .4-5.9-.3-4.7-1-4.7-2.2-3.5-2.9-2.1-2.6-2-3-3.4-7.6-2.1-8.2-.8-8.2 .4-7.1 1.1-7.1 7.1-27 1.4-6.5 .8-5.9 .4-7.1-.3-6.4-.8-6.5-1.5-7.1-2.8-8.8-3.8-9.4-4.8-10-5.6-10-6.6-10.6-7.3-10.6-7.8-10.6-9.8-12.4M430.8 288.1l23.2 12.7 15.8 7.6 7.1 2.8 7 2.4 7.1 1.9 6.4 1.3 6.5 .8 6.4 .3 6.5-.1 7.1-.5 12.3-2 27.6-6 6.4-.9 5.3-.4 5.9 .3 4.7 1 4.7 2.2 3.5 2.9 2.1 2.6 2 3 3.4 7.6 2.1 8.2 .8 8.2-.4 7.1-1.1 7.1-7.1 27-1.4 6.5-.8 5.9-.4 7.1 .3 6.4 .8 6.5 1.5 7.1 2.8 8.8 3.8 9.4 4.8 10 5.6 10 6.6 10.6 7.3 10.6 7.8 10.6 9.8 12.4M584.9 507.1l-18.8-8.7-14.6-5.6-13.6-3.8-6.4-1.3-7.1-.9-12.9-.5-13.5 1.1-12.9 2.2-29.4 6.2-7.6 1.1-6.5 .6-6.4-.1-5.9-1.1-4.7-2-3.9-3.1-2.4-3-1.9-3.1-1.8-3.9-2-5.3-2.7-11-.6-4.9-.3-5.3 .4-7.7 1.3-7.6 1.8-7.7 6.1-21.2 1.4-6.4 1-6.5 .6-7.1-.1-7-.7-7.1-1.3-7.1-2.4-8.8-3.4-9.4-4.1-9.4-5.4-10.6-6-10.6-6.8-10.6-7.5-10.6-8.5-11.2M439.9 288.1l18.8 8.7 14.6 5.6 13.6 3.8 6.4 1.3 7.1 .9 12.9 .5 13.5-1.1 12.9-2.2 29.4-6.2 7.6-1.1 6.5-.6 6.4 .1 5.9 1.1 4.7 2 3.9 3.1 2.4 3 1.9 3.1 1.8 3.9 2 5.3 2.7 11 .6 4.9 .3 5.3-.4 7.7-1.3 7.6-1.8 7.7-6.1 21.2-1.4 6.4-1 6.5-.6 7.1 .1 7 .7 7.1 1.3 7.1 2.4 8.8 3.4 9.4 4.1 9.4 5.4 10.6 6 10.6 6.8 10.6 7.5 10.6 8.5 11.2M574.4 507.1l-14.7-5.5-13.5-4-12.4-2.4-12.3-1.3-12.3 0-13.5 1.2-13.5 2.2-31.7 6.2-8.9 1.3-7.6 .7-8.2-.2-6.5-1.1-4.7-2-2.3-1.6-1.9-1.8-2.2-2.9-1.9-3.5-1.9-4.7-2-6.5-1.7-7.1-1.2-6.5-.7-5.8-.1-5.3 .5-7.7 1.6-8.2 8.6-29.5 2.7-12.9 .8-7.1 .2-7-.4-7.1-1.1-7.7-2.1-8.8-2.9-9.4-4-10-4.9-10.6-5.7-10.6-6.3-10.6-7.1-10.6-7.8-10.6M450.4 288.1l14.7 5.5 13.5 4 12.4 2.4 12.3 1.3 12.3 0 13.5-1.2 13.5-2.2 31.7-6.2 8.9-1.3 7.6-.7 8.2 .2 6.5 1.1 4.7 2 2.3 1.6 1.9 1.8 2.2 2.9 1.9 3.5 1.9 4.7 2 6.5 1.7 7.1 1.2 6.5 .7 5.8 .1 5.3-.5 7.7-1.6 8.2-8.6 29.5-2.7 12.9-.8 7.1-.2 7 .4 7.1 1.1 7.7 2.1 8.8 2.9 9.4 4 10 4.9 10.6 5.7 10.6 6.3 10.6 7.1 10.6 7.8 10.6M402.7 507.1l-2.8-2.8-2-3.1-1.8-4.1-1.8-5.3-2.5-10-1.7-8.9-.9-7-.3-6.5 .7-8.2 1.6-8.3 2.3-8.2 7.4-23 3.2-13.5 .9-7.7 .4-7-.3-7.7-1-7.6-1.8-8.9-2.7-9.4-3.7-10-4.6-10.6-5.3-10.6-5.7-10-6.4-10-7.5-10.6M561.2 507.1l-12.1-3.3-11.2-2.2-11.1-1.3-11.2-.5-11.1 .5-11.8 1.2-12.3 1.9-19.7 3.7M463.6 288.1l12.1 3.3 11.2 2.2 11.1 1.3 11.2 .5 11.1-.5 11.8-1.2 12.3-1.9 19.7-3.7M622.1 288.1l2.8 2.8 2 3.1 1.8 4.1 1.8 5.3 2.5 10 1.7 8.9 .9 7 .3 6.5-.7 8.2-1.6 8.3-2.3 8.2-7.4 23-3.2 13.5-.9 7.7-.4 7 .3 7.7 1 7.6 1.8 8.9 2.7 9.4 3.7 10 4.6 10.6 5.3 10.6 5.7 10 6.4 10 7.5 10.6M388.7 507.1l-1.7-3.8-1.5-5-4.3-19.5-1.4-10.6-.1-9.4 .9-7 1.9-8.3 2.6-8.2 7.6-21.8 3.6-13.5 1.3-7.7 .6-7.1 .1-7-.5-7.1-1.3-8.8-2-8.8-2.9-9.5-3.7-10-4.7-10.6-5.1-10-5.8-10-6.4-10M541.2 507.1l-12.7-1.6-12.9-.5-12.9 .5-14.6 1.6M483.6 288.1l12.7 1.6 12.9 .5 12.9-.5 14.6-1.6M636.1 288.1l1.7 3.8 1.5 5 4.3 19.5 1.4 10.6 .1 9.4-.9 7-1.9 8.3-2.6 8.2-7.6 21.8-3.6 13.5-1.3 7.7-.6 7.1-.1 7 .5 7.1 1.3 8.8 2 8.8 2.9 9.5 3.7 10 4.7 10.6 5.1 10 5.8 10 6.4 10M377.5 507.1l-2.2-9.4-4-21.8-.7-8.3 .4-8.2 1.1-7.1 2.2-8.2 10.6-28.8 4.1-13.6 1.4-7 1-7.1 .4-7.1-.2-7-.7-8.3-1.5-8.2-2.1-8.8-3-9.5-3.6-9.4-4.4-10-4.8-9.4-5.6-9.9M647.3 288.1l2.2 9.4 4 21.8 .7 8.3-.4 8.2-1.1 7.1-2.2 8.2-10.6 28.8-4.1 13.6-1.4 7-1 7.1-.4 7.1 .2 7 .7 8.3 1.5 8.2 2.1 8.8 3 9.5 3.6 9.4 4.4 10 4.8 9.4 5.6 9.9M367.3 507.1l-1.4-8.9M365.9 446.8l2.9-8 9-22.4 4-12.3 1.8-7.1 1.2-7.1 .7-6.4 .2-7.1-.3-7.6-.9-8.3-1.6-8.2-2.1-8.3-2.8-8.8-3.6-9.4-4.1-9.4-4.4-8.9M658.9 348.4l-2.9 8-9 22.4-4 12.3-1.8 7.1-1.2 7.1-.7 6.4-.2 7.1 .3 7.6 .9 8.3 1.6 8.2 2.1 8.3 2.8 8.8 3.6 9.4 4.1 9.4 4.4 8.9M657.5 288.1l1.4 8.9M365.9 429.7l6.9-16.8 4-12.9 1.5-6.5 1-6.5 .8-12.4-.2-6.4-.7-7.1-2.6-14.1-4.6-15.3-6.1-15.4M658.9 365.5l-6.9 16.8-4 12.9-1.5 6.5-1 6.5-.8 12.4 .2 6.4 .7 7.1 2.6 14.1 4.6 15.3 6.1 15.4M365.9 415.4l4-11.3 2.8-10.6 1.6-10 .5-10.6-.6-11.2-1.7-11.2-2.8-11.8-3.8-11.8M658.9 379.8l-4 11.3-2.8 10.6-1.6 10-.5 10.6 .6 11.2 1.7 11.2 2.8 11.8 3.8 11.8" fill="none" stroke="#000" stroke-opacity="0.42" stroke-width="0.8" mask="url(#me)"/>
<text class="cl" transform="translate(408.1,308.9) rotate(49.2)" x="0" y="3.6" text-anchor="middle">2</text><text class="cl" transform="translate(408.5,326.8) rotate(58.0)" x="0" y="3.6" text-anchor="middle">4</text><text class="cl" transform="translate(404.8,344.7) rotate(67.8)" x="0" y="3.6" text-anchor="middle">6</text><text class="cl" transform="translate(397.8,364.9) rotate(80.4)" x="0" y="3.6" text-anchor="middle">8</text><text class="cl" transform="translate(386.0,383.6) rotate(-85.9)" x="0" y="3.6" text-anchor="middle">10</text><text class="cl" transform="translate(487.2,338.7) rotate(22.5)" x="0" y="3.6" text-anchor="middle">2</text><text class="cl" transform="translate(500.6,319.7) rotate(7.6)" x="0" y="3.6" text-anchor="middle">4</text><text class="cl" transform="translate(510.9,300.9) rotate(-0.5)" x="0" y="3.6" text-anchor="middle">6</text><text class="cl" transform="translate(577.6,354.0) rotate(86.4)" x="0" y="3.6" text-anchor="middle">2</text><text class="cl" transform="translate(605.5,347.7) rotate(-86.7)" x="0" y="3.6" text-anchor="middle">4</text><text class="cl" transform="translate(626.0,343.1) rotate(-85.3)" x="0" y="3.6" text-anchor="middle">6</text><text class="cl" transform="translate(644.6,329.0) rotate(87.1)" x="0" y="3.6" text-anchor="middle">8</text><text class="cl" transform="translate(643.0,395.5) rotate(-76.4)" x="0" y="3.6" text-anchor="middle">10</text><text class="cl" transform="translate(464.3,460.1) rotate(1.6)" x="0" y="3.6" text-anchor="middle">2</text><text class="cl" transform="translate(436.4,484.5) rotate(25.7)" x="0" y="3.6" text-anchor="middle">4</text><text class="cl" transform="translate(406.4,492.1) rotate(65.4)" x="0" y="3.6" text-anchor="middle">6</text><text class="cl" transform="translate(382.7,487.7) rotate(77.9)" x="0" y="3.6" text-anchor="middle">8</text>
<mask id="mf" maskUnits="userSpaceOnUse" x="0" y="0" width="1000" height="574"><rect x="0" y="0" width="1000" height="574" fill="#fff"/><rect x="-4.0" y="-4.5" width="8.0" height="9" transform="translate(755.7,343.8) rotate(53.9)" fill="#000"/><rect x="-4.0" y="-4.5" width="8.0" height="9" transform="translate(738.0,354.4) rotate(74.2)" fill="#000"/><rect x="-4.0" y="-4.5" width="8.0" height="9" transform="translate(716.6,360.0) rotate(89.4)" fill="#000"/><rect x="-4.0" y="-4.5" width="8.0" height="9" transform="translate(819.6,342.6) rotate(16.7)" fill="#000"/><rect x="-4.0" y="-4.5" width="8.0" height="9" transform="translate(831.0,326.8) rotate(7.1)" fill="#000"/><rect x="-4.0" y="-4.5" width="8.0" height="9" transform="translate(840.5,311.8) rotate(0.7)" fill="#000"/><rect x="-4.0" y="-4.5" width="8.0" height="9" transform="translate(849.7,298.4) rotate(-4.6)" fill="#000"/><rect x="-4.0" y="-4.5" width="8.0" height="9" transform="translate(931.6,391.2) rotate(-65.4)" fill="#000"/><rect x="-4.0" y="-4.5" width="8.0" height="9" transform="translate(958.1,408.9) rotate(-70.4)" fill="#000"/><rect x="-4.0" y="-4.5" width="8.0" height="9" transform="translate(980.8,418.6) rotate(-72.8)" fill="#000"/><rect x="-4.0" y="-4.5" width="8.0" height="9" transform="translate(847.8,447.5) rotate(-0.2)" fill="#000"/><rect x="-4.0" y="-4.5" width="8.0" height="9" transform="translate(842.7,468.7) rotate(-3.3)" fill="#000"/><rect x="-4.0" y="-4.5" width="8.0" height="9" transform="translate(839.0,485.1) rotate(-6.0)" fill="#000"/><rect x="-4.0" y="-4.5" width="8.0" height="9" transform="translate(835.6,498.3) rotate(-8.6)" fill="#000"/></mask>
<rect x="701.1" y="288.1" width="293.0" height="219.0" fill="#fff5f4"/>
<path d="M701.7 507.1l266.3 0-9.7-7.3-11.3-9.2-33.3-29-11.2-9.2-6.5-4.6-6.4-4-6.5-3.4-5.8-2.5-6.5-2.1-6.5-1.5-6.4-.9-6.5-.4-7 .3-8.3 .8-27.6 5.3-9.9 1.2-5.3 0-4.1-.6-3.5-1.2-2.7-1.8-2-2.3-1.1-3-.3-3.5 .5-3.5 2.4-7.1 8.5-18.2 1.7-5.3 .8-4.7 .2-4.7-.5-4.8-1.2-4.7-1.9-4.7-2.6-4.7-3.6-5.3-4.3-5.3-5.3-5.9-8.9-8.8-28.5-27.2-25.6-25.2-10.2 0 0 219zM983.5 506.7l.4 .4 10.2 0 0-219-266.9 0 9.7 7.3 11.3 9.2 33.3 29 11.2 9.2 6.5 4.6 6.4 4 6.5 3.4 5.8 2.5 6.5 2.1 6.5 1.5 6.4 .9 6.5 .4 7-.3 8.3-.8 27.6-5.3 9.9-1.2 5.3 0 4.1 .6 3.5 1.2 2.7 1.8 2 2.3 1.1 3 .3 3.5-.5 3.5-2.4 7.1-8.5 18.2-1.7 5.3-.8 4.7-.2 4.7 .5 4.8 1.2 4.7 1.9 4.7 2.6 4.7 3.6 5.3 4.3 5.3 5.3 5.9 8.9 8.8 28.5 27.2 25 24.6z" fill="#ffe6e6" fill-rule="evenodd"/>
<path d="M701.7 507.1l258.5 0-33-25.8-10.6-7.6-8.8-5.9-8.8-5.3-8.8-4.5-8.8-3.7-8.3-2.6-8.2-1.8-7.6-1.1-8.2-.4-8.3 .3-7.6 .7-8.2 1.2-32.3 6.2-7.1 .8-5.8 .3-6.5-.3-5.5-1.1-4.5-1.8-4.1-2.7-3.4-3.8-2-4.1-1-4.7 .1-5.3 1-5.3 1.7-5.3 10.5-23 1.9-5.3 1.5-5.3 1-6.4 0-5.9-.9-5.9-1.8-6.5-3.7-8.2-4.9-8.3-6.9-9.4-8.8-10.6-13-14.1-13-12.9-9.4-8.1-3.5-2.5-3.5-2 0 218zM994.1 506.1l0-218-259.1 0 33 25.8 10.6 7.6 8.8 5.9 8.8 5.3 8.8 4.5 8.8 3.7 8.3 2.6 8.2 1.8 7.6 1.1 8.2 .4 8.3-.3 7.6-.7 8.2-1.2 32.3-6.2 7.1-.8 5.8-.3 6.5 .3 5.5 1.1 4.5 1.8 4.1 2.7 3.4 3.8 2 4.1 1 4.7-.1 5.3-1 5.3-1.7 5.3-10.5 23-1.9 5.3-1.5 5.3-1 6.4 0 5.9 .9 5.9 1.8 6.5 3.7 8.2 4.9 8.3 6.9 9.4 8.8 10.6 13 14.1 13 12.9 8.8 7.6 4.1 3 3.2 1.8z" fill="#ffcccc" fill-rule="evenodd"/>
<path d="M701.7 507.1l250.8 0-12.4-9.5-12.3-8.9-11.2-7.3-10-5.8-9.4-4.8-9.4-4-9.4-3.1-8.8-2.1-8.2-1.3-8.2-.6-8.8 0-8.8 .6-16.5 2.5-35.2 7.5-8.8 1.3-7.7 .5-8.8-.3-7.6-1.5-6.5-2.4-5.2-3.4-2.4-2.3-2.1-2.8-1.5-2.9-1.1-3-.9-3.5-.4-3.5 0-4.2 .3-4.1 1.5-7 2.6-7.7 3.3-7.1 9.3-18.2 2.2-5.3 1.8-5.3 1.5-6.5 .5-5.9-.2-5.9-1-5.8-2.3-7.7-3.8-8.2-5.1-8.9-6.7-9.4-8.8-10.6-9.5-10-8.4-7.4-7-4.9 0 210.7zM993.5 498.4l.6 .4 0-210.7-251.4 0 12.4 9.5 12.3 8.9 11.2 7.3 10 5.8 9.4 4.8 9.4 4 9.4 3.1 8.8 2.1 8.2 1.3 8.2 .6 8.8 0 8.8-.6 16.5-2.5 35.2-7.5 8.8-1.3 7.7-.5 8.8 .3 7.6 1.5 6.5 2.4 5.2 3.4 2.4 2.3 2.1 2.8 1.5 2.9 1.1 3 .9 3.5 .4 3.5 0 4.2-.3 4.1-1.5 7-2.6 7.7-3.3 7.1-9.3 18.2-2.2 5.3-1.8 5.3-1.5 6.5-.5 5.9 .2 5.9 1 5.8 2.3 7.7 3.8 8.2 5.1 8.9 6.3 8.8 8.1 10 9.4 10 8.4 7.7 7.3 5.3z" fill="#ffb2b2" fill-rule="evenodd"/>
<path d="M701.7 507.1l243 0-10.5-7.6-10.6-7-9.9-5.9-10-5.1-9.4-4.1-9.4-3.4-9.4-2.5-9.4-1.7-8.2-.8-8.2-.3-8.9 .4-8.8 .9-17 3-37.6 8.8-10 1.6-8.8 .8-11.1-.2-10.6-1.6-4.7-1.2-4.1-1.5-3.5-1.8-2.9-2-2.4-2.4-2-2.9-1.6-3.5-1.1-4.2-.7-4.7-.2-5.9 .3-6.4 .7-5.9 2.1-9.4 3.1-9 3.7-8.1 9.8-18.8 4.1-10 1.6-5.9 .9-5.3 .3-5.3-.4-5.3-1.3-7.1-2.5-7.6-3.6-7.7-4.9-8.2-5.9-8.3-7.1-8.2-7.1-6.8-6.4-4.9 0 203zM993.5 490.7l.6 .4 0-203-243.6 0 10.5 7.6 10.6 7 9.9 5.9 10 5.1 9.4 4.1 9.4 3.4 9.4 2.5 9.4 1.7 8.2 .8 8.2 .3 8.9-.4 8.8-.9 17-3 37.6-8.8 10-1.6 8.8-.8 11.1 .2 10.6 1.6 4.7 1.2 4.1 1.5 3.5 1.8 2.9 2 2.4 2.4 2 2.9 1.6 3.5 1.1 4.2 .7 4.7 .2 5.9-.3 6.4-.7 5.9-2.1 9.4-3.1 9-3.7 8.1-9.8 18.8-4.1 10-1.6 5.9-.9 5.3-.3 5.3 .4 5.3 1.3 7.1 2.5 7.6 3.6 7.7 4.5 7.6 5.9 8.3 7 8.2 7 6.9 6.2 4.9z" fill="#ff9999" fill-rule="evenodd"/>
<path d="M701.7 507.1l234.9 0-11.2-7.4-11.2-6.3-10.5-5.2-10.6-4.3-10-3.1-10.5-2.4-10.6-1.3-10.6-.5-12.3 .6-12.9 1.8-14.7 3.1-27.6 7.2-10.7 2.5-12.2 2-11.8 .8-9.4-.2-9.4-.8-8.8-1.3-7.6-1.8-4.7-1.8-3.7-2.2-2.8-3-1.7-3.6 0 27.2zM994.1 482.6l0-137.4-2.2 14.7-2.9 11.8-4.6 11.8-10 20-3.8 8.8-2.7 9.4-.7 4.7-.2 4.8 .4 6.4 1.3 6.5 2.1 6.5 3.2 7 4.1 7.1 4.9 6.6 5.2 6 5.6 5.1zM701.1 450l2.3-15.3 3.2-12.4 4.5-11.2 9.4-18.8 3.2-7.1 2.8-8.2 1.4-7.7 .3-7-.9-7.7-1.8-7-3.1-7.7-4.2-7.6-5.4-7.7-5.8-6.7-5.9-5.3 0 137.4zM833.2 318.1l7.6 .5 8.3-.1 8.2-.6 8.2-1.1 16.5-3.3 29.8-7.7 10.7-2.5 12.3-1.9 11.7-.8 9.4 .2 9.4 .8 8.8 1.4 7.1 1.7 4.7 1.8 3.7 2.2 2.8 3 1.7 3.6 0-27.2-235.5 0 9.4 6.3 10 5.9 9.4 4.8 9.4 4.2 9.4 3.4 8.8 2.5 8.8 1.8 9.3 1.1z" fill="#ff8080" fill-rule="evenodd"/>
<path d="M701.7 507.1l226.1 0-9.4-5.6-9.4-4.8-9.4-4-9.4-3.3-9.4-2.6-8.8-1.7-9.4-1-9.4-.4-14.1 .7-15.3 2.4-14.7 3.4-33.4 9.2-9.4 2-8.8 1.2-11.2 .7-12.3-.2-18.8-1.4-14.1-1.7 0 7.1zM994.1 472.1l0-84.3-9.5 21-3.2 8.2-2.3 8.9-.8 8.8 .3 5.3 .8 4.7 1.2 4.7 1.7 4.7 2.3 4.7 2.7 4.7 2.9 4.1 3.5 4.2zM701.2 407l9.4-20.6 3.2-8.2 2.3-8.9 .8-8.8-.3-5.3-.8-4.7-1.2-4.7-1.7-4.7-2.3-4.7-2.7-4.7-3.3-4.6-3.5-4 0 84.3zM832 311.1l8.3 .4 8.8-.2 8.8-.7 9.4-1.4 17-3.7 35.8-9.8 10-2.1 8.8-1.1 10.6-.6 12.3 .2 18.2 1.4 14.1 1.7 0-7.1-226.7 0 8.3 4.9 8.2 4.3 7.6 3.5 8.2 3.2 8.3 2.7 7.6 1.9 8.2 1.5 8 1z" fill="#ff6666" fill-rule="evenodd"/>
<path d="M775.1 507.1l143 0-8-4-7.6-3.4-8.2-3-7.6-2.3-7.7-1.7-8.2-1.4-8.2-.8-8.2-.3-7.7 .3-7.6 .6-15.9 2.7-14.1 3.4-34.1 9.9zM994.1 456.3l0-41.8-2 6.1-1.4 5.3-.9 5.3-.3 5.2 .3 5.3 .8 4.8 1.4 4.7 1.9 4.7zM701.2 380.5l2.1-6.4 1.3-5.3 .8-5.3 .3-4.7-.3-5.3-.8-4.8-1.6-5.3-1.9-4.5 0 41.8zM831.5 304.6l8.8 .4 8.8-.3 8.8-.8 9.4-1.5 17-4 35.9-10.3-143.1 0 13.2 6.4 13.6 4.9 13.5 3.4 13.5 1.8z" fill="#ff4d4d" fill-rule="evenodd"/>
<path d="M799.2 507.1l107.4 0-12.3-4.7-12.9-3.4-12.4-2-12.9-.7-12.9 .7-13.5 1.9-14.1 3.2-16.7 5zM833.8 298.7l14.1-.1 14.7-1.8 15.2-3.3 18.5-5.4-107.7 0 11.1 4.3 11.2 3.2 11.2 2.1 11.3 1z" fill="#ff3333" fill-rule="evenodd"/>
<path d="M821.5 507.1l69.9 0-8.3-2.1-8.8-1.6-8.2-.9-8.8-.3-8.8 .3-8.8 .9-9.4 1.6-9.3 2.1zM831.5 292.8l9.9 .2 10.6-.8 11.2-1.6 11-2.5-70.4 0 13.6 3.2 7 1 6.9 .5z" fill="#ff1919" fill-rule="evenodd"/>
<path d="M968 507.1l-9.7-7.3-11.3-9.2-33.3-29-11.2-9.2-6.5-4.6-6.4-4-6.5-3.4-5.8-2.5-6.5-2.1-6.5-1.5-6.4-.9-6.5-.4-7 .3-8.3 .8-27.6 5.3-9.9 1.2-5.3 0-4.1-.6-3.5-1.2-2.7-1.8-2-2.3-1.1-3-.3-3.5 .5-3.5 2.4-7.1 8.5-18.2 1.7-5.3 .8-4.7 .2-4.7-.5-4.8-1.2-4.7-1.9-4.7-2.6-4.7-3.6-5.3-4.3-5.3-5.3-5.9-8.9-8.8-28.5-27.2-25.6-25.2M727.2 288.1l9.7 7.3 11.3 9.2 33.3 29 11.2 9.2 6.5 4.6 6.4 4 6.5 3.4 5.8 2.5 6.5 2.1 6.5 1.5 6.4 .9 6.5 .4 7-.3 8.3-.8 27.6-5.3 9.9-1.2 5.3 0 4.1 .6 3.5 1.2 2.7 1.8 2 2.3 1.1 3 .3 3.5-.5 3.5-2.4 7.1-8.5 18.2-1.7 5.3-.8 4.7-.2 4.7 .5 4.8 1.2 4.7 1.9 4.7 2.6 4.7 3.6 5.3 4.3 5.3 5.3 5.9 8.9 8.8 28.5 27.2 25.6 25.2M960.2 507.1l-33-25.8-10.6-7.6-8.8-5.9-8.8-5.3-8.8-4.5-8.8-3.7-8.3-2.6-8.2-1.8-7.6-1.1-8.2-.4-8.3 .3-7.6 .7-8.2 1.2-32.3 6.2-7.1 .8-5.8 .3-6.5-.3-5.5-1.1-4.5-1.8-4.1-2.7-3.4-3.8-2-4.1-1-4.7 .1-5.3 1-5.3 1.7-5.3 10.5-23 1.9-5.3 1.5-5.3 1-6.4 0-5.9-.9-5.9-1.8-6.5-3.7-8.2-4.9-8.3-6.9-9.4-8.8-10.6-13-14.1-13-12.9-9.4-8.1-3.5-2.5-3.5-2M735 288.1l33 25.8 10.6 7.6 8.8 5.9 8.8 5.3 8.8 4.5 8.8 3.7 8.3 2.6 8.2 1.8 7.6 1.1 8.2 .4 8.3-.3 7.6-.7 8.2-1.2 32.3-6.2 7.1-.8 5.8-.3 6.5 .3 5.5 1.1 4.5 1.8 4.1 2.7 3.4 3.8 2 4.1 1 4.7-.1 5.3-1 5.3-1.7 5.3-10.5 23-1.9 5.3-1.5 5.3-1 6.4 0 5.9 .9 5.9 1.8 6.5 3.7 8.2 4.9 8.3 6.9 9.4 8.8 10.6 13 14.1 13 12.9 9.4 8.1 3.5 2.5 3.5 2M952.5 507.1l-12.4-9.5-12.3-8.9-11.2-7.3-10-5.8-9.4-4.8-9.4-4-9.4-3.1-8.8-2.1-8.2-1.3-8.2-.6-8.8 0-8.8 .6-16.5 2.5-35.2 7.5-8.8 1.3-7.7 .5-8.8-.3-7.6-1.5-6.5-2.4-5.2-3.4-2.4-2.3-2.1-2.8-1.5-2.9-1.1-3-.9-3.5-.4-3.5 0-4.2 .3-4.1 1.5-7 2.6-7.7 3.3-7.1 9.3-18.2 2.2-5.3 1.8-5.3 1.5-6.5 .5-5.9-.2-5.9-1-5.8-2.3-7.7-3.8-8.2-5.1-8.9-6.7-9.4-8.8-10.6-9.5-10-8.4-7.4-7-4.9M742.7 288.1l12.4 9.5 12.3 8.9 11.2 7.3 10 5.8 9.4 4.8 9.4 4 9.4 3.1 8.8 2.1 8.2 1.3 8.2 .6 8.8 0 8.8-.6 16.5-2.5 35.2-7.5 8.8-1.3 7.7-.5 8.8 .3 7.6 1.5 6.5 2.4 5.2 3.4 2.4 2.3 2.1 2.8 1.5 2.9 1.1 3 .9 3.5 .4 3.5 0 4.2-.3 4.1-1.5 7-2.6 7.7-3.3 7.1-9.3 18.2-2.2 5.3-1.8 5.3-1.5 6.5-.5 5.9 .2 5.9 1 5.8 2.3 7.7 3.8 8.2 5.1 8.9 6.7 9.4 8.8 10.6 9.5 10 8.4 7.4 7 4.9M944.7 507.1l-10.5-7.6-10.6-7-9.9-5.9-10-5.1-9.4-4.1-9.4-3.4-9.4-2.5-9.4-1.7-8.2-.8-8.2-.3-8.9 .4-8.8 .9-17 3-37.6 8.8-10 1.6-8.8 .8-11.1-.2-10.6-1.6-4.7-1.2-4.1-1.5-3.5-1.8-2.9-2-2.4-2.4-2-2.9-1.6-3.5-1.1-4.2-.7-4.7-.2-5.9 .3-6.4 .7-5.9 2.1-9.4 3.1-9 3.7-8.1 9.8-18.8 4.1-10 1.6-5.9 .9-5.3 .3-5.3-.4-5.3-1.3-7.1-2.5-7.6-3.6-7.7-4.9-8.2-5.9-8.3-7.1-8.2-7.1-6.8-6.4-4.9M750.5 288.1l10.5 7.6 10.6 7 9.9 5.9 10 5.1 9.4 4.1 9.4 3.4 9.4 2.5 9.4 1.7 8.2 .8 8.2 .3 8.9-.4 8.8-.9 17-3 37.6-8.8 10-1.6 8.8-.8 11.1 .2 10.6 1.6 4.7 1.2 4.1 1.5 3.5 1.8 2.9 2 2.4 2.4 2 2.9 1.6 3.5 1.1 4.2 .7 4.7 .2 5.9-.3 6.4-.7 5.9-2.1 9.4-3.1 9-3.7 8.1-9.8 18.8-4.1 10-1.6 5.9-.9 5.3-.3 5.3 .4 5.3 1.3 7.1 2.5 7.6 3.6 7.7 4.9 8.2 5.9 8.3 7.1 8.2 7.1 6.8 6.4 4.9M936.6 507.1l-9.4-6.3-8.8-5.2-9.4-4.9-8.8-4-8.9-3.4-8.2-2.5-8.8-2-8.8-1.4-8.2-.7-8.8 0-8.8 .5-8.8 1-17.1 3.3-30.5 8-11.2 2.5-11.7 1.8-11.7 .8-9.4-.2-9.4-.8-8.8-1.4-7.1-1.7-4.7-1.8-3.7-2.2-2.8-3-1.7-3.6M701.1 450l2.2-14.7 2.9-11.8 4.6-11.8 10-20 3.8-8.8 2.7-9.4 .7-4.7 .2-4.8-.4-6.4-1.5-7.1-2.1-6.5-3.3-7-4.2-7.1-4.8-6.5-5.3-5.8-5.5-5M994.1 345.2l-2.2 14.7-2.9 11.8-4.6 11.8-10 20-3.8 8.8-2.7 9.4-.7 4.7-.2 4.8 .4 6.4 1.5 7.1 2.1 6.5 3.3 7 4.2 7.1 4.8 6.5 5.3 5.8 5.5 5M758.6 288.1l9.4 6.3 8.8 5.2 9.4 4.9 8.8 4 8.9 3.4 8.2 2.5 8.8 2 8.8 1.4 8.2 .7 8.8 0 8.8-.5 8.8-1 17.1-3.3 30.5-8 11.2-2.5 11.7-1.8 11.7-.8 9.4 .2 9.4 .8 8.8 1.4 7.1 1.7 4.7 1.8 3.7 2.2 2.8 3 1.7 3.6M927.8 507.1l-8.9-5.3-8.8-4.5-8.8-3.9-8.8-3.3-8.8-2.5-8.8-2-8.8-1.2-8.8-.6-7.6-.1-7.7 .5-8.2 .9-8.2 1.3-15.3 3.5-34.8 9.5-9.8 2.1-8.8 1.2-10.6 .6-12.3-.2-18.8-1.4-14.1-1.7M701.1 407.4l9.5-21 3.2-8.2 2.3-8.9 .8-8.8-.3-5.3-.8-4.7-1.2-4.7-1.7-4.7-2.3-4.7-2.7-4.7-3.3-4.6-3.5-4M994.1 387.8l-9.5 21-3.2 8.2-2.3 8.9-.8 8.8 .3 5.3 .8 4.7 1.2 4.7 1.7 4.7 2.3 4.7 2.7 4.7 3.3 4.6 3.5 4M767.4 288.1l8.9 5.3 8.8 4.5 8.8 3.9 8.8 3.3 8.8 2.5 8.8 2 8.8 1.2 8.8 .6 7.6 .1 7.7-.5 8.2-.9 8.2-1.3 15.3-3.5 34.8-9.5 9.8-2.1 8.8-1.2 10.6-.6 12.3 .2 18.8 1.4 14.1 1.7M918.1 507.1l-8-4-7.6-3.4-8.2-3-7.6-2.3-7.7-1.7-8.2-1.4-8.2-.8-8.2-.3-7.7 .3-7.6 .6-15.9 2.7-14.1 3.4-34.1 9.9M994.1 414.5l-2 6.1-1.4 5.3-.9 5.3-.3 5.2 .3 5.3 .8 4.8 1.6 5.3 1.9 4.5M701.1 380.7l2-6.1 1.4-5.3 .9-5.3 .3-5.2-.3-5.3-.8-4.8-1.6-5.3-1.9-4.5M777.1 288.1l8 4 7.6 3.4 8.2 3 7.6 2.3 7.7 1.7 8.2 1.4 8.2 .8 8.2 .3 7.7-.3 7.6-.6 15.9-2.7 14.1-3.4 34.1-9.9M906.6 507.1l-12.3-4.7-12.9-3.4-12.4-2-12.9-.7-12.9 .7-13.5 1.9-14.1 3.2-16.7 5M788.6 288.1l12.3 4.7 12.9 3.4 12.4 2 12.9 .7 12.9-.7 13.5-1.9 14.1-3.2 16.7-5M891.4 507.1l-8.3-2.1-8.8-1.6-8.2-.9-8.8-.3-8.8 .3-8.8 .9-9.4 1.6-9.3 2.1M803.8 288.1l8.3 2.1 8.8 1.6 8.2 .9 8.8 .3 8.8-.3 8.8-.9 9.4-1.6 9.3-2.1" fill="none" stroke="#000" stroke-opacity="0.42" stroke-width="0.8" mask="url(#mf)"/>
<text class="cl" transform="translate(755.7,343.8) rotate(53.9)" x="0" y="3.6" text-anchor="middle">2</text><text class="cl" transform="translate(738.0,354.4) rotate(74.2)" x="0" y="3.6" text-anchor="middle">4</text><text class="cl" transform="translate(716.6,360.0) rotate(89.4)" x="0" y="3.6" text-anchor="middle">6</text><text class="cl" transform="translate(819.6,342.6) rotate(16.7)" x="0" y="3.6" text-anchor="middle">2</text><text class="cl" transform="translate(831.0,326.8) rotate(7.1)" x="0" y="3.6" text-anchor="middle">4</text><text class="cl" transform="translate(840.5,311.8) rotate(0.7)" x="0" y="3.6" text-anchor="middle">6</text><text class="cl" transform="translate(849.7,298.4) rotate(-4.6)" x="0" y="3.6" text-anchor="middle">8</text><text class="cl" transform="translate(931.6,391.2) rotate(-65.4)" x="0" y="3.6" text-anchor="middle">2</text><text class="cl" transform="translate(958.1,408.9) rotate(-70.4)" x="0" y="3.6" text-anchor="middle">4</text><text class="cl" transform="translate(980.8,418.6) rotate(-72.8)" x="0" y="3.6" text-anchor="middle">6</text><text class="cl" transform="translate(847.8,447.5) rotate(-0.2)" x="0" y="3.6" text-anchor="middle">2</text><text class="cl" transform="translate(842.7,468.7) rotate(-3.3)" x="0" y="3.6" text-anchor="middle">4</text><text class="cl" transform="translate(839.0,485.1) rotate(-6.0)" x="0" y="3.6" text-anchor="middle">6</text><text class="cl" transform="translate(835.6,498.3) rotate(-8.6)" x="0" y="3.6" text-anchor="middle">8</text>
<rect x="30.3" y="6.7" width="293.0" height="219.0" fill="none" stroke="#b8b8b8" stroke-width="1"/>
<path d="M59.6,225.7v5.5M59.6,6.7v-5.5M98.7,225.7v5.5M98.7,6.7v-5.5M137.7,225.7v5.5M137.7,6.7v-5.5M176.8,225.7v5.5M176.8,6.7v-5.5M215.9,225.7v5.5M215.9,6.7v-5.5M254.9,225.7v5.5M254.9,6.7v-5.5M294.0,225.7v5.5M294.0,6.7v-5.5M30.3,194.4h-5M323.3,194.4h5M30.3,155.3h-5M323.3,155.3h5M30.3,116.2h-5M323.3,116.2h5M30.3,77.1h-5M323.3,77.1h5M30.3,38.0h-5M323.3,38.0h5" stroke="#b8b8b8" stroke-width="1" fill="none"/>
<g class="tk"><text x="59.6" y="242.2" text-anchor="middle">-3</text><text x="98.7" y="242.2" text-anchor="middle">-2</text><text x="137.7" y="242.2" text-anchor="middle">-1</text><text x="176.8" y="242.2" text-anchor="middle">0</text><text x="215.9" y="242.2" text-anchor="middle">1</text><text x="254.9" y="242.2" text-anchor="middle">2</text><text x="294.0" y="242.2" text-anchor="middle">3</text><text x="23.8" y="198.0" text-anchor="end">-2</text><text x="23.8" y="158.9" text-anchor="end">-1</text><text x="23.8" y="119.8" text-anchor="end">0</text><text x="23.8" y="80.7" text-anchor="end">1</text><text x="23.8" y="41.6" text-anchor="end">2</text></g>
<text class="ax" transform="translate(7.3,116.6) rotate(-90)" text-anchor="middle">Y (mm)</text>
<text class="pl" x="178.3" y="263.2" text-anchor="middle">(a)</text>
<rect x="365.9" y="6.7" width="293.0" height="219.0" fill="none" stroke="#b8b8b8" stroke-width="1"/>
<path d="M395.2,225.7v5.5M395.2,6.7v-5.5M434.3,225.7v5.5M434.3,6.7v-5.5M473.3,225.7v5.5M473.3,6.7v-5.5M512.4,225.7v5.5M512.4,6.7v-5.5M551.5,225.7v5.5M551.5,6.7v-5.5M590.5,225.7v5.5M590.5,6.7v-5.5M629.6,225.7v5.5M629.6,6.7v-5.5M365.9,194.4h-5M658.9,194.4h5M365.9,155.3h-5M658.9,155.3h5M365.9,116.2h-5M658.9,116.2h5M365.9,77.1h-5M658.9,77.1h5M365.9,38.0h-5M658.9,38.0h5" stroke="#b8b8b8" stroke-width="1" fill="none"/>
<g class="tk"><text x="395.2" y="242.2" text-anchor="middle">-3</text><text x="434.3" y="242.2" text-anchor="middle">-2</text><text x="473.3" y="242.2" text-anchor="middle">-1</text><text x="512.4" y="242.2" text-anchor="middle">0</text><text x="551.5" y="242.2" text-anchor="middle">1</text><text x="590.5" y="242.2" text-anchor="middle">2</text><text x="629.6" y="242.2" text-anchor="middle">3</text><text x="359.4" y="198.0" text-anchor="end">-2</text><text x="359.4" y="158.9" text-anchor="end">-1</text><text x="359.4" y="119.8" text-anchor="end">0</text><text x="359.4" y="80.7" text-anchor="end">1</text><text x="359.4" y="41.6" text-anchor="end">2</text></g>
<text class="pl" x="513.9" y="263.2" text-anchor="middle">(b)</text>
<rect x="697.9" y="6.7" width="293.0" height="219.0" fill="none" stroke="#b8b8b8" stroke-width="1"/>
<path d="M727.2,225.7v5.5M727.2,6.7v-5.5M766.3,225.7v5.5M766.3,6.7v-5.5M805.3,225.7v5.5M805.3,6.7v-5.5M844.4,225.7v5.5M844.4,6.7v-5.5M883.5,225.7v5.5M883.5,6.7v-5.5M922.5,225.7v5.5M922.5,6.7v-5.5M961.6,225.7v5.5M961.6,6.7v-5.5M697.9,194.4h-5M990.9,194.4h5M697.9,155.3h-5M990.9,155.3h5M697.9,116.2h-5M990.9,116.2h5M697.9,77.1h-5M990.9,77.1h5M697.9,38.0h-5M990.9,38.0h5" stroke="#b8b8b8" stroke-width="1" fill="none"/>
<g class="tk"><text x="727.2" y="242.2" text-anchor="middle">-3</text><text x="766.3" y="242.2" text-anchor="middle">-2</text><text x="805.3" y="242.2" text-anchor="middle">-1</text><text x="844.4" y="242.2" text-anchor="middle">0</text><text x="883.5" y="242.2" text-anchor="middle">1</text><text x="922.5" y="242.2" text-anchor="middle">2</text><text x="961.6" y="242.2" text-anchor="middle">3</text><text x="691.4" y="198.0" text-anchor="end">-2</text><text x="691.4" y="158.9" text-anchor="end">-1</text><text x="691.4" y="119.8" text-anchor="end">0</text><text x="691.4" y="80.7" text-anchor="end">1</text><text x="691.4" y="41.6" text-anchor="end">2</text></g>
<text class="pl" x="845.9" y="263.2" text-anchor="middle">(c)</text>
<rect x="30.9" y="288.1" width="293.0" height="219.0" fill="none" stroke="#b8b8b8" stroke-width="1"/>
<path d="M60.2,507.1v5.5M60.2,288.1v-5.5M99.3,507.1v5.5M99.3,288.1v-5.5M138.3,507.1v5.5M138.3,288.1v-5.5M177.4,507.1v5.5M177.4,288.1v-5.5M216.5,507.1v5.5M216.5,288.1v-5.5M255.5,507.1v5.5M255.5,288.1v-5.5M294.6,507.1v5.5M294.6,288.1v-5.5M30.9,475.8h-5M323.9,475.8h5M30.9,436.7h-5M323.9,436.7h5M30.9,397.6h-5M323.9,397.6h5M30.9,358.5h-5M323.9,358.5h5M30.9,319.4h-5M323.9,319.4h5" stroke="#b8b8b8" stroke-width="1" fill="none"/>
<g class="tk"><text x="60.2" y="523.6" text-anchor="middle">-3</text><text x="99.3" y="523.6" text-anchor="middle">-2</text><text x="138.3" y="523.6" text-anchor="middle">-1</text><text x="177.4" y="523.6" text-anchor="middle">0</text><text x="216.5" y="523.6" text-anchor="middle">1</text><text x="255.5" y="523.6" text-anchor="middle">2</text><text x="294.6" y="523.6" text-anchor="middle">3</text><text x="24.4" y="479.4" text-anchor="end">-2</text><text x="24.4" y="440.3" text-anchor="end">-1</text><text x="24.4" y="401.2" text-anchor="end">0</text><text x="24.4" y="362.1" text-anchor="end">1</text><text x="24.4" y="323.0" text-anchor="end">2</text></g>
<text class="ax" transform="translate(7.9,398.0) rotate(-90)" text-anchor="middle">Y (mm)</text>
<text class="ax" x="177.9" y="541.6" text-anchor="middle">X (mm)</text>
<text class="pl" x="177.9" y="569.1" text-anchor="middle">(d)</text>
<rect x="365.9" y="288.1" width="293.0" height="219.0" fill="none" stroke="#b8b8b8" stroke-width="1"/>
<path d="M395.2,507.1v5.5M395.2,288.1v-5.5M434.3,507.1v5.5M434.3,288.1v-5.5M473.3,507.1v5.5M473.3,288.1v-5.5M512.4,507.1v5.5M512.4,288.1v-5.5M551.5,507.1v5.5M551.5,288.1v-5.5M590.5,507.1v5.5M590.5,288.1v-5.5M629.6,507.1v5.5M629.6,288.1v-5.5M365.9,475.8h-5M658.9,475.8h5M365.9,436.7h-5M658.9,436.7h5M365.9,397.6h-5M658.9,397.6h5M365.9,358.5h-5M658.9,358.5h5M365.9,319.4h-5M658.9,319.4h5" stroke="#b8b8b8" stroke-width="1" fill="none"/>
<g class="tk"><text x="395.2" y="523.6" text-anchor="middle">-3</text><text x="434.3" y="523.6" text-anchor="middle">-2</text><text x="473.3" y="523.6" text-anchor="middle">-1</text><text x="512.4" y="523.6" text-anchor="middle">0</text><text x="551.5" y="523.6" text-anchor="middle">1</text><text x="590.5" y="523.6" text-anchor="middle">2</text><text x="629.6" y="523.6" text-anchor="middle">3</text><text x="359.4" y="479.4" text-anchor="end">-2</text><text x="359.4" y="440.3" text-anchor="end">-1</text><text x="359.4" y="401.2" text-anchor="end">0</text><text x="359.4" y="362.1" text-anchor="end">1</text><text x="359.4" y="323.0" text-anchor="end">2</text></g>
<text class="ax" x="512.9" y="541.6" text-anchor="middle">X (mm)</text>
<text class="pl" x="512.9" y="569.1" text-anchor="middle">(e)</text>
<rect x="701.1" y="288.1" width="293.0" height="219.0" fill="none" stroke="#b8b8b8" stroke-width="1"/>
<path d="M730.4,507.1v5.5M730.4,288.1v-5.5M769.5,507.1v5.5M769.5,288.1v-5.5M808.5,507.1v5.5M808.5,288.1v-5.5M847.6,507.1v5.5M847.6,288.1v-5.5M886.7,507.1v5.5M886.7,288.1v-5.5M925.7,507.1v5.5M925.7,288.1v-5.5M964.8,507.1v5.5M964.8,288.1v-5.5M701.1,475.8h-5M994.1,475.8h5M701.1,436.7h-5M994.1,436.7h5M701.1,397.6h-5M994.1,397.6h5M701.1,358.5h-5M994.1,358.5h5M701.1,319.4h-5M994.1,319.4h5" stroke="#b8b8b8" stroke-width="1" fill="none"/>
<g class="tk"><text x="730.4" y="523.6" text-anchor="middle">-3</text><text x="769.5" y="523.6" text-anchor="middle">-2</text><text x="808.5" y="523.6" text-anchor="middle">-1</text><text x="847.6" y="523.6" text-anchor="middle">0</text><text x="886.7" y="523.6" text-anchor="middle">1</text><text x="925.7" y="523.6" text-anchor="middle">2</text><text x="964.8" y="523.6" text-anchor="middle">3</text><text x="694.6" y="479.4" text-anchor="end">-2</text><text x="694.6" y="440.3" text-anchor="end">-1</text><text x="694.6" y="401.2" text-anchor="end">0</text><text x="694.6" y="362.1" text-anchor="end">1</text><text x="694.6" y="323.0" text-anchor="end">2</text></g>
<text class="ax" x="848.1" y="541.6" text-anchor="middle">X (mm)</text>
<text class="pl" x="848.1" y="569.1" text-anchor="middle">(f)</text>
</svg></body></html>
